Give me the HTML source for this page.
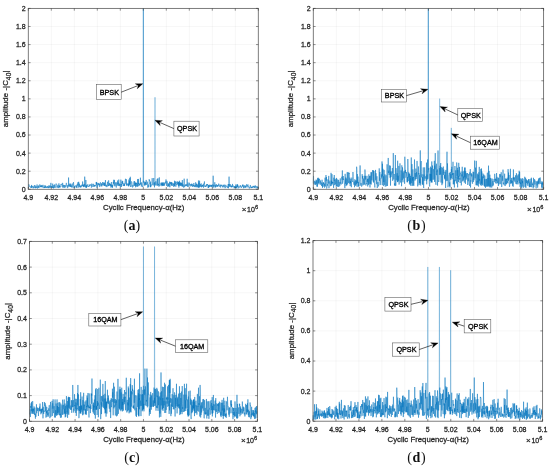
<!DOCTYPE html>
<html lang="en"><head><meta charset="utf-8"><title>Cyclic cumulant spectra</title>
<style>
html,body{margin:0;padding:0;background:#fff;width:550px;height:470px;overflow:hidden}
svg{display:block;position:absolute;left:0;top:0}
text{white-space:pre}
</style></head><body>
<svg width="550" height="470" viewBox="0 0 550 470">
<rect width="550" height="470" fill="#fff"/>
<rect x="28.30" y="8.40" width="230.00" height="180.90" fill="#fff"/>
<path d="M51.30 8.40V189.30M74.30 8.40V189.30M97.30 8.40V189.30M120.30 8.40V189.30M143.30 8.40V189.30M166.30 8.40V189.30M189.30 8.40V189.30M212.30 8.40V189.30M235.30 8.40V189.30M28.30 171.21H258.30M28.30 153.12H258.30M28.30 135.03H258.30M28.30 116.94H258.30M28.30 98.85H258.30M28.30 80.76H258.30M28.30 62.67H258.30M28.30 44.58H258.30M28.30 26.49H258.30" stroke="#000" stroke-opacity="0.075" stroke-width="0.5" fill="none"/>
<polyline points="28.30,186.91 28.53,187.61 28.76,184.04 28.99,186.59 29.22,186.01 29.45,185.70 29.68,186.17 29.91,186.69 30.14,186.82 30.37,187.16 30.60,186.87 30.83,187.50 31.06,186.21 31.29,187.99 31.52,184.93 31.75,187.45 31.98,186.84 32.21,187.18 32.44,185.89 32.67,186.15 32.90,187.75 33.13,188.34 33.37,186.52 33.60,187.47 33.83,187.96 34.06,188.02 34.29,185.50 34.52,185.02 34.75,185.97 34.98,187.95 35.21,185.56 35.44,186.78 35.67,188.26 35.90,187.05 36.13,187.43 36.36,186.46 36.59,187.41 36.82,187.80 37.05,184.51 37.28,187.56 37.51,188.46 37.74,187.55 37.97,186.30 38.20,187.65 38.43,185.49 38.66,186.78 38.89,188.01 39.12,186.32 39.35,186.29 39.58,185.62 39.81,184.42 40.04,187.33 40.27,185.99 40.50,186.18 40.73,186.84 40.96,184.96 41.19,187.04 41.42,185.65 41.65,187.07 41.88,187.35 42.11,185.35 42.34,186.59 42.57,187.32 42.80,186.58 43.03,184.83 43.26,186.90 43.50,187.23 43.73,186.83 43.96,188.11 44.19,187.01 44.42,187.93 44.65,185.48 44.88,185.48 45.11,187.59 45.34,186.47 45.57,185.60 45.80,188.01 46.03,186.30 46.26,187.41 46.49,187.33 46.72,187.82 46.95,187.05 47.18,187.39 47.41,186.26 47.64,185.98 47.87,187.85 48.10,186.48 48.33,188.17 48.56,187.12 48.79,187.00 49.02,185.17 49.25,188.07 49.48,186.50 49.71,186.86 49.94,186.37 50.17,185.76 50.40,187.84 50.63,186.82 50.86,182.87 51.09,186.93 51.32,186.06 51.55,186.67 51.78,187.75 52.01,186.14 52.24,187.84 52.47,186.92 52.70,183.64 52.93,187.92 53.16,187.09 53.40,188.45 53.63,185.32 53.86,185.11 54.09,187.92 54.32,187.08 54.55,184.49 54.78,187.25 55.01,187.24 55.24,187.86 55.47,187.10 55.70,184.94 55.93,183.58 56.16,183.75 56.39,183.79 56.62,185.55 56.85,187.56 57.08,186.55 57.31,186.58 57.54,187.48 57.77,184.84 58.00,185.64 58.23,186.65 58.46,188.08 58.69,186.57 58.92,183.36 59.15,187.30 59.38,185.38 59.61,187.32 59.84,185.98 60.07,187.52 60.30,187.10 60.53,186.50 60.76,184.78 60.99,184.07 61.22,184.65 61.45,183.81 61.68,184.52 61.91,185.24 62.14,186.94 62.37,186.45 62.60,182.86 62.83,184.11 63.06,188.00 63.29,186.45 63.53,185.05 63.76,185.28 63.99,187.00 64.22,184.98 64.45,186.46 64.68,188.00 64.91,187.35 65.14,185.16 65.37,186.14 65.60,186.55 65.83,187.26 66.06,184.66 66.29,182.86 66.52,183.88 66.75,186.07 66.98,186.46 67.21,186.33 67.44,185.41 67.67,188.15 67.90,186.34 68.13,185.63 68.36,186.23 68.59,177.54 68.82,186.62 69.05,185.11 69.28,183.66 69.51,185.54 69.74,186.45 69.97,184.78 70.20,186.87 70.43,183.59 70.66,185.01 70.89,187.05 71.12,184.63 71.35,186.44 71.58,186.03 71.81,187.58 72.04,184.96 72.27,183.47 72.50,186.74 72.73,186.88 72.96,187.47 73.19,187.60 73.43,182.13 73.66,184.74 73.89,186.28 74.12,187.69 74.35,187.70 74.58,186.04 74.81,187.47 75.04,186.33 75.27,185.38 75.50,185.75 75.73,186.17 75.96,185.96 76.19,187.51 76.42,187.46 76.65,185.34 76.88,187.76 77.11,184.19 77.34,183.81 77.57,183.88 77.80,185.73 78.03,182.12 78.26,187.62 78.49,186.96 78.72,181.77 78.95,184.11 79.18,184.96 79.41,183.73 79.64,186.85 79.87,184.99 80.10,187.53 80.33,185.93 80.56,187.16 80.79,186.98 81.02,187.29 81.25,185.42 81.48,185.75 81.71,186.75 81.94,184.60 82.17,185.51 82.40,185.93 82.63,181.49 82.86,185.89 83.09,185.24 83.33,186.75 83.56,184.68 83.79,187.16 84.02,185.79 84.25,183.88 84.48,186.63 84.71,176.64 84.94,182.44 85.17,185.09 85.40,186.14 85.63,187.28 85.86,179.99 86.09,187.74 86.32,184.85 86.55,187.70 86.78,185.80 87.01,186.75 87.24,185.66 87.47,185.87 87.70,184.33 87.93,185.69 88.16,186.36 88.39,186.87 88.62,186.37 88.85,186.12 89.08,186.89 89.31,184.45 89.54,185.98 89.77,185.04 90.00,184.71 90.23,184.84 90.46,184.78 90.69,184.36 90.92,185.73 91.15,184.89 91.38,187.63 91.61,185.94 91.84,183.57 92.07,184.83 92.30,184.42 92.53,186.46 92.76,186.89 92.99,187.03 93.22,185.83 93.46,183.96 93.69,183.84 93.92,186.72 94.15,185.21 94.38,186.44 94.61,185.39 94.84,186.09 95.07,185.14 95.30,186.26 95.53,185.34 95.76,184.87 95.99,184.25 96.22,181.95 96.45,184.41 96.68,182.10 96.91,187.66 97.14,183.16 97.37,186.41 97.60,186.75 97.83,185.80 98.06,185.26 98.29,182.92 98.52,184.77 98.75,184.14 98.98,183.39 99.21,185.32 99.44,183.93 99.67,186.98 99.90,186.93 100.13,183.56 100.36,182.30 100.59,183.07 100.82,184.84 101.05,185.90 101.28,183.16 101.51,183.43 101.74,186.53 101.97,184.38 102.20,185.34 102.43,183.29 102.66,182.06 102.89,184.84 103.12,184.65 103.36,182.58 103.59,185.32 103.82,184.95 104.05,185.46 104.28,182.45 104.51,185.92 104.74,183.10 104.97,184.79 105.20,186.08 105.43,180.11 105.66,183.73 105.89,186.57 106.12,186.39 106.35,184.84 106.58,186.51 106.81,187.14 107.04,186.26 107.27,186.42 107.50,181.75 107.73,185.34 107.96,185.59 108.19,185.13 108.42,186.08 108.65,180.38 108.88,185.91 109.11,185.71 109.34,183.17 109.57,183.14 109.80,185.19 110.03,183.69 110.26,186.03 110.49,184.24 110.72,185.94 110.95,187.62 111.18,183.37 111.41,182.09 111.64,186.66 111.87,184.68 112.10,187.35 112.33,185.15 112.56,187.69 112.79,184.68 113.02,184.57 113.25,181.92 113.49,183.63 113.72,179.77 113.95,182.16 114.18,185.67 114.41,179.90 114.64,183.66 114.87,186.33 115.10,185.37 115.33,185.35 115.56,182.36 115.79,184.05 116.02,184.78 116.25,187.55 116.48,182.46 116.71,182.80 116.94,182.90 117.17,185.63 117.40,184.09 117.63,180.51 117.86,184.35 118.09,182.47 118.32,185.88 118.55,183.09 118.78,179.56 119.01,184.77 119.24,186.14 119.47,183.60 119.70,185.58 119.93,184.31 120.16,184.47 120.39,187.06 120.62,185.88 120.85,179.65 121.08,185.33 121.31,184.03 121.54,186.92 121.77,182.43 122.00,182.78 122.23,180.81 122.46,183.80 122.69,181.22 122.92,184.90 123.15,185.83 123.39,185.23 123.62,185.61 123.85,183.25 124.08,186.09 124.31,183.76 124.54,185.94 124.77,184.83 125.00,181.58 125.23,180.65 125.46,178.79 125.69,180.41 125.92,183.90 126.15,181.17 126.38,179.25 126.61,185.50 126.84,183.51 127.07,185.45 127.30,183.83 127.53,183.82 127.76,183.97 127.99,183.94 128.22,185.77 128.45,183.52 128.68,186.47 128.91,179.53 129.14,185.58 129.37,181.25 129.60,184.71 129.83,178.01 130.06,184.27 130.29,176.76 130.52,186.88 130.75,186.45 130.98,185.70 131.21,186.53 131.44,181.45 131.67,181.58 131.90,181.88 132.13,184.70 132.36,186.45 132.59,187.45 132.82,185.18 133.05,185.30 133.28,186.47 133.52,183.44 133.75,182.40 133.98,181.71 134.21,181.08 134.44,185.77 134.67,181.41 134.90,182.49 135.13,185.81 135.36,182.83 135.59,187.28 135.82,182.50 136.05,184.18 136.28,182.85 136.51,186.47 136.74,183.19 136.97,183.60 137.20,184.05 137.43,186.72 137.66,179.12 137.89,185.18 138.12,186.30 138.35,178.95 138.58,184.10 138.81,182.91 139.04,186.06 139.27,184.30 139.50,185.03 139.73,183.70 139.96,184.68 140.19,182.64 140.42,177.69 140.65,184.39 140.88,182.79 141.11,184.06 141.34,186.50 141.57,183.53 141.80,182.31 142.03,183.19 142.26,186.64 142.49,186.69 142.72,185.95 142.95,186.53 143.18,182.15 143.42,180.52 143.65,182.14 143.88,182.81 144.11,181.65 144.34,184.56 144.57,183.46 144.80,185.77 145.03,181.76 145.26,185.09 145.49,182.26 145.72,184.38 145.95,183.05 146.18,179.90 146.41,182.16 146.64,184.88 146.87,183.95 147.10,184.08 147.33,181.67 147.56,184.37 147.79,187.63 148.02,185.78 148.25,184.50 148.48,187.17 148.71,186.38 148.94,184.51 149.17,179.18 149.40,180.65 149.63,180.13 149.86,183.71 150.09,183.25 150.32,187.16 150.55,181.62 150.78,187.13 151.01,185.49 151.24,185.84 151.47,184.73 151.70,184.93 151.93,183.87 152.16,178.15 152.39,183.13 152.62,183.96 152.85,185.28 153.08,183.84 153.32,183.77 153.55,181.33 153.78,177.98 154.01,185.46 154.24,182.93 154.47,187.33 154.70,182.18 154.93,183.07 155.16,184.17 155.39,185.45 155.62,183.84 155.85,181.21 156.08,182.91 156.31,184.08 156.54,185.01 156.77,185.55 157.00,181.31 157.23,178.92 157.46,184.18 157.69,185.80 157.92,178.26 158.15,185.02 158.38,185.10 158.61,183.80 158.84,186.56 159.07,184.88 159.30,177.38 159.53,184.02 159.76,186.15 159.99,185.96 160.22,184.92 160.45,185.06 160.68,184.55 160.91,182.73 161.14,184.46 161.37,185.06 161.60,183.28 161.83,186.15 162.06,182.12 162.29,185.49 162.52,182.88 162.75,185.65 162.98,183.77 163.21,185.86 163.45,183.33 163.68,182.33 163.91,185.63 164.14,183.06 164.37,185.45 164.60,185.51 164.83,182.43 165.06,182.37 165.29,182.25 165.52,181.70 165.75,183.54 165.98,179.43 166.21,181.33 166.44,185.17 166.67,185.86 166.90,180.89 167.13,182.58 167.36,182.39 167.59,186.67 167.82,185.39 168.05,184.57 168.28,183.15 168.51,186.10 168.74,183.95 168.97,186.74 169.20,185.39 169.43,184.21 169.66,181.66 169.89,187.31 170.12,182.05 170.35,182.46 170.58,183.98 170.81,183.84 171.04,181.95 171.27,185.55 171.50,182.38 171.73,185.12 171.96,185.70 172.19,182.60 172.42,184.92 172.65,185.69 172.88,185.12 173.11,184.92 173.35,183.26 173.58,185.62 173.81,187.01 174.04,184.06 174.27,185.90 174.50,180.76 174.73,186.22 174.96,182.55 175.19,183.93 175.42,183.37 175.65,181.29 175.88,186.70 176.11,183.82 176.34,184.68 176.57,184.50 176.80,182.05 177.03,182.76 177.26,181.30 177.49,184.60 177.72,183.20 177.95,183.81 178.18,181.83 178.41,186.02 178.64,181.83 178.87,187.57 179.10,182.60 179.33,184.97 179.56,180.78 179.79,186.05 180.02,182.75 180.25,184.79 180.48,185.82 180.71,182.43 180.94,184.92 181.17,183.03 181.40,185.94 181.63,185.77 181.86,182.73 182.09,186.53 182.32,180.06 182.55,186.53 182.78,185.02 183.01,184.26 183.24,185.99 183.48,185.79 183.71,187.66 183.94,183.58 184.17,178.67 184.40,187.07 184.63,186.56 184.86,185.88 185.09,184.89 185.32,185.79 185.55,186.16 185.78,184.22 186.01,186.12 186.24,186.03 186.47,185.39 186.70,184.39 186.93,185.79 187.16,178.76 187.39,186.18 187.62,186.86 187.85,183.50 188.08,182.52 188.31,183.39 188.54,183.93 188.77,186.80 189.00,185.16 189.23,183.87 189.46,182.78 189.69,183.91 189.92,185.50 190.15,184.13 190.38,184.81 190.61,184.76 190.84,186.53 191.07,184.69 191.30,184.30 191.53,185.83 191.76,183.58 191.99,184.92 192.22,184.17 192.45,185.64 192.68,186.85 192.91,184.87 193.14,186.37 193.38,184.93 193.61,185.81 193.84,182.96 194.07,184.85 194.30,187.08 194.53,185.62 194.76,186.33 194.99,185.20 195.22,185.18 195.45,186.72 195.68,182.28 195.91,185.53 196.14,187.35 196.37,185.31 196.60,183.64 196.83,186.78 197.06,184.04 197.29,186.11 197.52,185.45 197.75,187.43 197.98,185.82 198.21,186.76 198.44,180.49 198.67,187.89 198.90,182.64 199.13,184.53 199.36,187.44 199.59,180.69 199.82,186.73 200.05,186.93 200.28,185.13 200.51,184.24 200.74,186.66 200.97,185.32 201.20,183.42 201.43,187.35 201.66,187.15 201.89,185.41 202.12,186.95 202.35,185.12 202.58,186.21 202.81,185.05 203.04,185.52 203.27,183.96 203.51,187.67 203.74,184.60 203.97,183.28 204.20,183.67 204.43,181.45 204.66,186.40 204.89,185.82 205.12,186.74 205.35,185.61 205.58,186.74 205.81,186.35 206.04,186.69 206.27,185.24 206.50,186.19 206.73,184.08 206.96,184.89 207.19,184.06 207.42,185.29 207.65,184.51 207.88,185.31 208.11,187.84 208.34,184.95 208.57,187.93 208.80,186.22 209.03,185.22 209.26,187.12 209.49,186.18 209.72,184.67 209.95,186.86 210.18,185.51 210.41,185.21 210.64,185.10 210.87,186.51 211.10,184.83 211.33,186.96 211.56,184.98 211.79,185.99 212.02,185.79 212.25,187.18 212.48,187.34 212.71,184.43 212.94,186.17 213.17,175.73 213.41,185.68 213.64,187.54 213.87,185.01 214.10,186.29 214.33,186.56 214.56,184.78 214.79,182.24 215.02,185.64 215.25,187.67 215.48,185.36 215.71,186.95 215.94,184.54 216.17,185.39 216.40,184.36 216.63,186.75 216.86,186.69 217.09,186.66 217.32,185.04 217.55,186.69 217.78,184.93 218.01,185.78 218.24,185.59 218.47,185.54 218.70,183.63 218.93,186.52 219.16,186.78 219.39,186.48 219.62,186.60 219.85,184.71 220.08,184.58 220.31,186.18 220.54,187.45 220.77,184.84 221.00,186.03 221.23,185.92 221.46,186.16 221.69,184.74 221.92,185.63 222.15,185.30 222.38,187.36 222.61,187.20 222.84,185.97 223.07,186.57 223.31,184.72 223.54,186.27 223.77,185.52 224.00,187.45 224.23,186.80 224.46,186.69 224.69,184.64 224.92,186.19 225.15,188.20 225.38,187.90 225.61,186.76 225.84,184.88 226.07,186.75 226.30,186.53 226.53,186.24 226.76,186.11 226.99,186.66 227.22,187.48 227.45,187.14 227.68,186.62 227.91,187.81 228.14,184.27 228.37,188.30 228.60,184.14 228.83,185.29 229.06,176.64 229.29,184.74 229.52,186.80 229.75,184.13 229.98,185.71 230.21,184.33 230.44,187.06 230.67,186.96 230.90,186.09 231.13,185.33 231.36,187.21 231.59,185.98 231.82,187.38 232.05,186.47 232.28,186.59 232.51,183.92 232.74,186.94 232.97,186.06 233.20,185.61 233.44,186.35 233.67,186.19 233.90,186.47 234.13,188.23 234.36,186.16 234.59,187.37 234.82,186.74 235.05,187.77 235.28,186.15 235.51,185.76 235.74,187.87 235.97,184.39 236.20,188.06 236.43,186.79 236.66,186.27 236.89,188.44 237.12,184.64 237.35,186.70 237.58,184.25 237.81,186.86 238.04,185.56 238.27,187.04 238.50,188.29 238.73,187.77 238.96,186.56 239.19,187.27 239.42,187.47 239.65,186.70 239.88,186.80 240.11,185.49 240.34,186.36 240.57,185.46 240.80,187.35 241.03,186.69 241.26,186.61 241.49,187.85 241.72,186.84 241.95,186.52 242.18,186.08 242.41,185.02 242.64,186.56 242.87,184.40 243.10,186.18 243.34,186.82 243.57,188.24 243.80,185.38 244.03,187.27 244.26,186.83 244.49,187.55 244.72,185.62 244.95,185.22 245.18,186.58 245.41,187.63 245.64,185.88 245.87,187.55 246.10,186.27 246.33,186.01 246.56,184.33 246.79,186.61 247.02,186.57 247.25,187.29 247.48,185.21 247.71,185.76 247.94,184.39 248.17,185.56 248.40,187.30 248.63,186.67 248.86,186.44 249.09,187.08 249.32,188.51 249.55,187.79 249.78,187.44 250.01,188.08 250.24,184.96 250.47,185.31 250.70,186.90 250.93,186.57 251.16,188.17 251.39,186.96 251.62,187.08 251.85,188.01 252.08,186.86 252.31,187.96 252.54,186.32 252.77,186.39 253.00,186.56 253.23,187.13 253.47,186.22 253.70,187.43 253.93,185.90 254.16,185.62 254.39,187.96 254.62,186.31 254.85,186.76 255.08,187.22 255.31,187.12 255.54,185.53 255.77,187.99 256.00,188.27 256.23,187.82 256.46,186.51 256.69,187.15 256.92,186.68 257.15,187.22 257.38,188.41 257.61,186.61 257.84,187.49 258.07,186.66 258.30,187.74" fill="none" stroke="#0072BD" stroke-width="0.5" stroke-linejoin="round"/>
<g fill="none" stroke="#0072BD" stroke-linejoin="round"><path d="M143.13 182.15L143.35 8.40L143.57 180.52" stroke-width="0.45"/><path d="M154.78 183.07L155.00 97.22L155.22 184.17" stroke-width="0.32"/></g>
<rect x="28.30" y="8.40" width="230.00" height="180.90" fill="none" stroke="#666" stroke-width="0.85"/>
<path d="M28.30 189.30v-2.3M28.30 8.40v2.3M51.30 189.30v-2.3M51.30 8.40v2.3M74.30 189.30v-2.3M74.30 8.40v2.3M97.30 189.30v-2.3M97.30 8.40v2.3M120.30 189.30v-2.3M120.30 8.40v2.3M143.30 189.30v-2.3M143.30 8.40v2.3M166.30 189.30v-2.3M166.30 8.40v2.3M189.30 189.30v-2.3M189.30 8.40v2.3M212.30 189.30v-2.3M212.30 8.40v2.3M235.30 189.30v-2.3M235.30 8.40v2.3M258.30 189.30v-2.3M258.30 8.40v2.3M28.30 189.30h2.3M258.30 189.30h-2.3M28.30 171.21h2.3M258.30 171.21h-2.3M28.30 153.12h2.3M258.30 153.12h-2.3M28.30 135.03h2.3M258.30 135.03h-2.3M28.30 116.94h2.3M258.30 116.94h-2.3M28.30 98.85h2.3M258.30 98.85h-2.3M28.30 80.76h2.3M258.30 80.76h-2.3M28.30 62.67h2.3M258.30 62.67h-2.3M28.30 44.58h2.3M258.30 44.58h-2.3M28.30 26.49h2.3M258.30 26.49h-2.3M28.30 8.40h2.3M258.30 8.40h-2.3" stroke="#262626" stroke-width="0.5" fill="none"/>
<g font-family="Liberation Sans, Arial, sans-serif" font-size="7.0" fill="#262626" stroke="#262626" stroke-width="0.26">
<text x="28.30" y="199.90" text-anchor="middle">4.9</text>
<text x="51.30" y="199.90" text-anchor="middle">4.92</text>
<text x="74.30" y="199.90" text-anchor="middle">4.94</text>
<text x="97.30" y="199.90" text-anchor="middle">4.96</text>
<text x="120.30" y="199.90" text-anchor="middle">4.98</text>
<text x="143.30" y="199.90" text-anchor="middle">5</text>
<text x="166.30" y="199.90" text-anchor="middle">5.02</text>
<text x="189.30" y="199.90" text-anchor="middle">5.04</text>
<text x="212.30" y="199.90" text-anchor="middle">5.06</text>
<text x="235.30" y="199.90" text-anchor="middle">5.08</text>
<text x="258.30" y="199.90" text-anchor="middle">5.1</text>
<text x="25.70" y="191.75" text-anchor="end">0</text>
<text x="25.70" y="173.66" text-anchor="end">0.2</text>
<text x="25.70" y="155.57" text-anchor="end">0.4</text>
<text x="25.70" y="137.48" text-anchor="end">0.6</text>
<text x="25.70" y="119.39" text-anchor="end">0.8</text>
<text x="25.70" y="101.30" text-anchor="end">1</text>
<text x="25.70" y="83.21" text-anchor="end">1.2</text>
<text x="25.70" y="65.12" text-anchor="end">1.4</text>
<text x="25.70" y="47.03" text-anchor="end">1.6</text>
<text x="25.70" y="28.94" text-anchor="end">1.8</text>
<text x="25.70" y="10.85" text-anchor="end">2</text>
<text x="258.00" y="211.50" text-anchor="end"><tspan font-size="8.05">×</tspan><tspan dx="0.6">10</tspan><tspan dy="-2.9" font-size="5.60">6</tspan></text>
<text x="143.70" y="209.70" text-anchor="middle" font-size="7.77">Cyclic Frequency-α(Hz)</text>
<text transform="translate(8.20 98.85) rotate(-90)" text-anchor="middle" letter-spacing="0.08" font-size="7.77">amplitude -|C<tspan dy="2.5" font-size="6.68">40</tspan><tspan dy="-2.5">|</tspan></text>
</g>
<g font-family="Liberation Sans, Arial, sans-serif" font-size="7.2" fill="#000" stroke="#000" stroke-width="0.32">
<rect x="96.50" y="84.70" width="24.70" height="15.00" fill="#fff" stroke="#555" stroke-width="0.55"/>
<text x="109.35" y="94.80" text-anchor="middle">BPSK</text>
<path d="M121.20 92.20L137.40 85.82" stroke="#000" stroke-width="0.62" fill="none"/>
<path d="M142.80 83.70L137.27 88.78L138.24 85.49L135.30 83.75Z" fill="#000"/>
<rect x="173.90" y="121.20" width="25.20" height="14.80" fill="#fff" stroke="#555" stroke-width="0.55"/>
<text x="187.00" y="131.20" text-anchor="middle">QPSK</text>
<path d="M173.90 128.60L160.21 122.62" stroke="#000" stroke-width="0.62" fill="none"/>
<path d="M154.90 120.30L162.40 120.63L159.39 122.26L160.23 125.58Z" fill="#000"/>
</g>
<text x="132.00" y="230.30" text-anchor="middle" font-family="Liberation Serif, Times New Roman, serif" font-size="14" fill="#111" letter-spacing="0">(<tspan font-weight="bold">a</tspan>)</text>
<rect x="313.30" y="8.40" width="230.30" height="180.90" fill="#fff"/>
<path d="M336.33 8.40V189.30M359.36 8.40V189.30M382.39 8.40V189.30M405.42 8.40V189.30M428.45 8.40V189.30M451.48 8.40V189.30M474.51 8.40V189.30M497.54 8.40V189.30M520.57 8.40V189.30M313.30 171.21H543.60M313.30 153.12H543.60M313.30 135.03H543.60M313.30 116.94H543.60M313.30 98.85H543.60M313.30 80.76H543.60M313.30 62.67H543.60M313.30 44.58H543.60M313.30 26.49H543.60" stroke="#000" stroke-opacity="0.075" stroke-width="0.5" fill="none"/>
<polyline points="313.30,183.34 313.53,176.08 313.76,184.26 313.99,183.31 314.22,183.17 314.45,182.31 314.68,180.82 314.91,184.78 315.14,181.96 315.37,181.58 315.61,184.78 315.84,184.04 316.07,179.60 316.30,183.89 316.53,180.43 316.76,186.07 316.99,186.67 317.22,183.70 317.45,186.60 317.68,178.20 317.91,183.77 318.14,177.70 318.37,183.08 318.60,178.60 318.83,179.29 319.06,184.48 319.29,180.87 319.52,178.79 319.75,180.77 319.99,182.27 320.22,183.36 320.45,180.47 320.68,184.79 320.91,183.47 321.14,183.65 321.37,182.57 321.60,186.04 321.83,184.25 322.06,179.74 322.29,185.23 322.52,187.89 322.75,183.54 322.98,186.93 323.21,182.02 323.44,184.09 323.67,182.85 323.90,182.92 324.13,185.83 324.37,183.78 324.60,187.70 324.83,183.84 325.06,177.69 325.29,182.17 325.52,186.48 325.75,182.54 325.98,175.04 326.21,180.73 326.44,177.06 326.67,188.51 326.90,187.95 327.13,185.96 327.36,184.23 327.59,185.63 327.82,179.43 328.05,181.19 328.28,183.51 328.52,181.88 328.75,175.90 328.98,188.19 329.21,182.70 329.44,183.27 329.67,181.44 329.90,180.64 330.13,182.10 330.36,186.18 330.59,185.28 330.82,181.98 331.05,172.84 331.28,185.82 331.51,180.65 331.74,183.87 331.97,174.17 332.20,184.55 332.43,181.96 332.66,183.03 332.90,182.21 333.13,181.51 333.36,183.50 333.59,187.92 333.82,177.69 334.05,181.01 334.28,175.02 334.51,185.15 334.74,184.40 334.97,179.58 335.20,182.08 335.43,184.24 335.66,184.39 335.89,178.73 336.12,186.56 336.35,185.46 336.58,177.91 336.81,186.39 337.04,185.15 337.28,185.63 337.51,183.19 337.74,179.42 337.97,186.98 338.20,183.62 338.43,181.06 338.66,179.98 338.89,186.89 339.12,181.84 339.35,183.05 339.58,183.70 339.81,185.83 340.04,183.82 340.27,178.39 340.50,183.48 340.73,182.45 340.96,183.03 341.19,184.49 341.42,179.45 341.66,178.43 341.89,176.69 342.12,179.79 342.35,170.43 342.58,183.73 342.81,180.02 343.04,178.28 343.27,176.05 343.50,179.80 343.73,178.70 343.96,179.78 344.19,182.01 344.42,182.82 344.65,185.87 344.88,188.17 345.11,173.83 345.34,178.81 345.57,183.69 345.80,177.43 346.04,186.12 346.27,178.46 346.50,184.66 346.73,183.72 346.96,185.25 347.19,172.24 347.42,178.53 347.65,184.21 347.88,175.11 348.11,172.01 348.34,180.31 348.57,182.95 348.80,173.39 349.03,174.03 349.26,172.78 349.49,180.68 349.72,183.70 349.95,177.65 350.18,186.06 350.42,181.05 350.65,183.12 350.88,179.11 351.11,183.04 351.34,187.23 351.57,181.13 351.80,177.58 352.03,180.81 352.26,181.02 352.49,181.74 352.72,181.93 352.95,172.01 353.18,176.49 353.41,180.98 353.64,183.89 353.87,184.68 354.10,184.66 354.33,181.53 354.56,187.22 354.80,179.28 355.03,181.21 355.26,184.26 355.49,185.60 355.72,180.31 355.95,185.46 356.18,180.65 356.41,183.81 356.64,166.72 356.87,169.66 357.10,186.83 357.33,174.07 357.56,183.11 357.79,178.16 358.02,176.59 358.25,179.69 358.48,186.53 358.71,181.95 358.95,186.35 359.18,183.47 359.41,181.04 359.64,181.08 359.87,176.70 360.10,165.43 360.33,179.87 360.56,181.70 360.79,185.65 361.02,183.05 361.25,185.13 361.48,186.43 361.71,186.71 361.94,184.74 362.17,174.18 362.40,178.59 362.63,176.07 362.86,185.42 363.09,184.35 363.33,178.52 363.56,181.51 363.79,184.49 364.02,184.87 364.25,175.76 364.48,183.47 364.71,184.41 364.94,169.52 365.17,172.82 365.40,179.55 365.63,175.88 365.86,185.49 366.09,183.21 366.32,183.11 366.55,183.85 366.78,177.78 367.01,175.83 367.24,181.92 367.47,179.01 367.71,186.44 367.94,182.07 368.17,178.51 368.40,184.97 368.63,178.36 368.86,174.35 369.09,183.85 369.32,179.64 369.55,176.09 369.78,182.59 370.01,187.49 370.24,175.71 370.47,183.89 370.70,183.48 370.93,172.20 371.16,184.58 371.39,179.26 371.62,172.27 371.85,180.28 372.09,176.44 372.32,173.69 372.55,170.12 372.78,174.22 373.01,178.59 373.24,181.62 373.47,170.33 373.70,182.62 373.93,170.89 374.16,173.37 374.39,182.53 374.62,185.18 374.85,187.49 375.08,181.62 375.31,179.06 375.54,169.92 375.77,180.22 376.00,173.20 376.23,179.52 376.47,180.87 376.70,184.19 376.93,176.28 377.16,187.70 377.39,188.03 377.62,184.02 377.85,181.99 378.08,182.56 378.31,184.83 378.54,186.43 378.77,184.40 379.00,181.12 379.23,168.36 379.46,180.82 379.69,176.45 379.92,172.03 380.15,185.09 380.38,183.85 380.61,179.25 380.85,178.22 381.08,178.61 381.31,174.33 381.54,177.11 381.77,177.67 382.00,161.42 382.23,184.99 382.46,163.78 382.69,176.43 382.92,168.79 383.15,172.43 383.38,186.05 383.61,176.28 383.84,182.08 384.07,169.90 384.30,173.66 384.53,184.66 384.76,185.10 384.99,174.39 385.23,186.70 385.46,181.00 385.69,178.34 385.92,176.11 386.15,175.29 386.38,186.22 386.61,181.31 386.84,178.74 387.07,164.31 387.30,173.11 387.53,185.94 387.76,179.02 387.99,175.45 388.22,157.95 388.45,173.09 388.68,173.07 388.91,170.65 389.14,175.05 389.38,171.58 389.61,165.41 389.84,167.52 390.07,177.78 390.30,165.75 390.53,185.63 390.76,171.46 390.99,177.11 391.22,176.18 391.45,173.58 391.68,174.27 391.91,171.44 392.14,173.22 392.37,167.98 392.60,180.80 392.83,180.04 393.06,173.83 393.29,153.12 393.52,175.36 393.76,179.40 393.99,177.86 394.22,173.99 394.45,185.37 394.68,183.54 394.91,183.39 395.14,186.04 395.37,155.01 395.60,177.16 395.83,185.55 396.06,168.11 396.29,171.76 396.52,177.31 396.75,180.33 396.98,173.83 397.21,173.19 397.44,182.02 397.67,160.69 397.90,182.18 398.14,175.71 398.37,179.36 398.60,180.69 398.83,165.92 399.06,184.57 399.29,182.81 399.52,174.48 399.75,169.80 399.98,163.35 400.21,172.90 400.44,180.71 400.67,182.57 400.90,173.25 401.13,170.42 401.36,173.22 401.59,186.23 401.82,165.30 402.05,168.33 402.28,180.26 402.52,167.36 402.75,171.55 402.98,182.27 403.21,172.38 403.44,178.43 403.67,177.97 403.90,171.39 404.13,170.90 404.36,171.98 404.59,183.74 404.82,156.72 405.05,164.56 405.28,173.15 405.51,169.90 405.74,177.65 405.97,177.19 406.20,176.33 406.43,172.06 406.66,176.61 406.90,181.77 407.13,182.29 407.36,176.98 407.59,182.15 407.82,159.01 408.05,167.27 408.28,180.97 408.51,173.87 408.74,172.29 408.97,177.62 409.20,173.54 409.43,184.42 409.66,173.83 409.89,182.69 410.12,178.12 410.35,184.46 410.58,175.82 410.81,185.86 411.04,177.60 411.28,157.48 411.51,180.67 411.74,183.20 411.97,164.12 412.20,186.02 412.43,177.28 412.66,180.66 412.89,169.32 413.12,185.25 413.35,178.77 413.58,176.83 413.81,185.92 414.04,177.08 414.27,176.57 414.50,159.49 414.73,176.84 414.96,180.66 415.19,173.06 415.43,179.38 415.66,177.15 415.89,168.58 416.12,176.79 416.35,175.36 416.58,172.25 416.81,179.01 417.04,160.93 417.27,173.06 417.50,174.42 417.73,186.38 417.96,179.67 418.19,178.26 418.42,166.45 418.65,174.40 418.88,172.95 419.11,185.14 419.34,174.75 419.57,182.90 419.81,178.76 420.04,183.46 420.27,150.39 420.50,184.66 420.73,185.49 420.96,166.28 421.19,161.05 421.42,171.53 421.65,177.39 421.88,176.16 422.11,174.29 422.34,184.30 422.57,177.06 422.80,184.92 423.03,177.18 423.26,167.41 423.49,186.74 423.72,187.99 423.95,174.50 424.19,180.84 424.42,178.35 424.65,167.38 424.88,177.21 425.11,178.69 425.34,177.50 425.57,176.45 425.80,177.46 426.03,179.76 426.26,181.01 426.49,162.64 426.72,184.30 426.95,174.53 427.18,179.51 427.41,173.15 427.64,159.46 427.87,178.85 428.10,172.62 428.57,170.02 428.80,168.02 429.03,170.85 429.26,182.53 429.49,184.60 429.72,186.56 429.95,173.76 430.18,181.05 430.41,166.67 430.64,180.46 430.87,173.99 431.10,182.58 431.33,167.79 431.56,182.03 431.79,161.44 432.02,182.63 432.25,173.99 432.48,165.53 432.71,171.16 432.95,179.78 433.18,174.50 433.41,169.06 433.64,169.24 433.87,179.47 434.10,178.59 434.33,160.83 434.56,181.91 434.79,165.58 435.02,169.34 435.25,153.15 435.48,175.81 435.71,182.78 435.94,184.80 436.17,174.93 436.40,163.70 436.63,175.18 436.86,170.86 437.09,171.38 437.33,169.51 437.56,185.58 437.79,173.55 438.02,150.51 438.25,175.66 438.48,179.70 438.71,182.04 438.94,180.76 439.17,179.75 439.40,168.14 439.86,174.98 440.09,165.71 440.32,174.32 440.55,163.89 440.78,163.02 441.01,182.54 441.24,167.17 441.47,175.33 441.71,178.34 441.94,185.15 442.17,171.56 442.40,167.72 442.63,183.47 442.86,171.53 443.09,170.85 443.32,166.55 443.55,174.85 443.78,169.54 444.01,172.97 444.24,172.38 444.47,178.45 444.70,174.93 444.93,179.48 445.16,171.62 445.39,172.18 445.62,188.00 445.86,169.92 446.09,181.16 446.32,179.95 446.55,178.98 446.78,165.57 447.01,151.73 447.24,180.87 447.47,163.42 447.70,170.21 447.93,187.25 448.16,186.17 448.39,184.76 448.62,177.88 448.85,175.42 449.08,175.56 449.31,172.91 449.54,186.24 449.77,182.36 450.00,187.45 450.24,172.04 450.47,177.92 450.70,179.83 450.93,174.05 451.16,178.05 451.39,169.13 451.62,172.50 451.85,166.81 452.08,179.18 452.31,173.05 452.54,175.06 452.77,174.15 453.00,161.79 453.23,184.23 453.46,180.81 453.69,172.95 453.92,184.32 454.15,179.90 454.38,187.48 454.62,176.01 454.85,166.01 455.08,166.64 455.31,181.26 455.54,178.24 455.77,170.31 456.00,177.71 456.23,177.40 456.46,183.49 456.69,162.47 456.92,166.50 457.15,175.83 457.38,167.78 457.61,187.33 457.84,170.00 458.07,179.16 458.30,175.96 458.53,182.08 458.76,162.82 459.00,173.53 459.23,176.55 459.46,166.94 459.69,179.65 459.92,177.79 460.15,183.02 460.38,176.14 460.61,173.04 460.84,173.55 461.07,171.56 461.30,185.42 461.53,182.55 461.76,174.28 461.99,176.44 462.22,166.78 462.45,178.97 462.68,181.37 462.91,171.61 463.14,176.42 463.38,180.50 463.61,176.48 463.84,178.42 464.07,170.80 464.30,182.64 464.53,167.62 464.76,177.11 464.99,173.51 465.22,167.55 465.45,183.83 465.68,171.21 465.91,177.20 466.14,179.67 466.37,173.19 466.60,177.46 466.83,178.36 467.06,176.89 467.29,175.36 467.52,173.02 467.76,184.99 467.99,178.12 468.22,181.29 468.45,178.58 468.68,173.90 468.91,177.69 469.14,183.41 469.37,184.42 469.60,185.88 469.83,172.32 470.06,175.35 470.29,169.12 470.52,187.51 470.75,180.36 470.98,181.55 471.21,177.11 471.44,173.29 471.67,176.37 471.91,174.42 472.14,178.92 472.37,183.47 472.60,183.75 472.83,174.49 473.06,171.74 473.29,182.00 473.52,177.14 473.75,171.99 473.98,180.22 474.21,169.60 474.44,168.86 474.67,160.55 474.90,172.90 475.13,178.37 475.36,171.66 475.59,167.61 475.82,178.66 476.05,185.26 476.29,160.85 476.52,173.70 476.75,185.25 476.98,180.94 477.21,183.98 477.44,185.44 477.67,173.65 477.90,182.58 478.13,174.73 478.36,186.11 478.59,186.59 478.82,172.22 479.05,183.79 479.28,166.88 479.51,180.65 479.74,178.92 479.97,180.70 480.20,183.05 480.43,184.83 480.67,179.35 480.90,169.07 481.13,185.68 481.36,168.38 481.59,183.66 481.82,171.44 482.05,185.49 482.28,181.40 482.51,176.38 482.74,184.85 482.97,173.54 483.20,174.48 483.43,176.80 483.66,178.31 483.89,174.66 484.12,185.91 484.35,178.81 484.58,186.63 484.81,175.58 485.05,179.31 485.28,183.99 485.51,187.82 485.74,179.11 485.97,179.43 486.20,186.42 486.43,178.93 486.66,179.08 486.89,186.73 487.12,179.94 487.35,172.68 487.58,186.48 487.81,180.08 488.04,178.01 488.27,185.71 488.50,165.63 488.73,186.65 488.96,171.48 489.19,170.95 489.43,186.56 489.66,179.95 489.89,174.70 490.12,187.62 490.35,177.88 490.58,186.57 490.81,179.81 491.04,178.50 491.27,181.38 491.50,186.02 491.73,187.58 491.96,182.99 492.19,178.64 492.42,185.29 492.65,186.31 492.88,181.13 493.11,183.27 493.34,185.45 493.57,182.96 493.81,182.56 494.04,179.05 494.27,181.98 494.50,176.82 494.73,173.82 494.96,177.17 495.19,180.10 495.42,178.68 495.65,183.33 495.88,179.29 496.11,180.96 496.34,177.93 496.57,173.03 496.80,183.58 497.03,176.80 497.26,180.57 497.49,182.17 497.72,183.12 497.95,179.97 498.19,177.97 498.42,185.99 498.65,182.85 498.88,177.52 499.11,184.35 499.34,181.65 499.57,180.21 499.80,173.94 500.03,177.19 500.26,174.30 500.49,183.60 500.72,184.20 500.95,180.56 501.18,172.23 501.41,176.28 501.64,186.97 501.87,186.10 502.10,180.19 502.34,175.72 502.57,180.81 502.80,180.71 503.03,169.61 503.26,184.02 503.49,183.34 503.72,182.58 503.95,185.07 504.18,185.25 504.41,177.63 504.64,173.69 504.87,180.09 505.10,186.07 505.33,184.77 505.56,178.50 505.79,184.32 506.02,182.53 506.25,178.92 506.48,184.22 506.72,179.08 506.95,179.94 507.18,177.76 507.41,182.54 507.64,181.34 507.87,183.36 508.10,169.15 508.33,180.89 508.56,172.53 508.79,179.63 509.02,175.06 509.25,182.55 509.48,186.77 509.71,185.89 509.94,182.01 510.17,180.30 510.40,168.81 510.63,183.67 510.86,180.07 511.10,180.97 511.33,183.48 511.56,177.96 511.79,182.89 512.02,181.72 512.25,180.90 512.48,185.79 512.71,184.66 512.94,177.59 513.17,186.74 513.40,169.45 513.63,179.22 513.86,177.22 514.09,180.63 514.32,177.53 514.55,179.87 514.78,181.39 515.01,182.21 515.24,179.78 515.48,175.32 515.71,182.94 515.94,183.86 516.17,184.09 516.40,173.18 516.63,176.76 516.86,184.25 517.09,176.72 517.32,175.52 517.55,182.16 517.78,181.22 518.01,184.35 518.24,174.32 518.47,179.42 518.70,180.31 518.93,180.85 519.16,170.74 519.39,183.27 519.62,171.88 519.86,180.61 520.09,186.89 520.32,178.42 520.55,184.15 520.78,182.43 521.01,187.11 521.24,182.30 521.47,179.34 521.70,188.53 521.93,185.00 522.16,178.00 522.39,183.22 522.62,180.90 522.85,186.61 523.08,178.75 523.31,184.33 523.54,187.64 523.77,186.96 524.00,186.86 524.24,184.54 524.47,181.00 524.70,176.75 524.93,179.13 525.16,186.80 525.39,184.99 525.62,177.74 525.85,187.93 526.08,183.25 526.31,179.25 526.54,183.00 526.77,182.22 527.00,180.00 527.23,184.40 527.46,183.47 527.69,180.88 527.92,185.93 528.15,183.62 528.38,181.69 528.62,179.19 528.85,183.30 529.08,179.15 529.31,187.15 529.54,183.29 529.77,187.12 530.00,181.57 530.23,183.01 530.46,183.57 530.69,186.97 530.92,178.76 531.15,182.47 531.38,177.72 531.61,187.17 531.84,186.16 532.07,182.53 532.30,184.89 532.53,183.84 532.77,184.43 533.00,186.53 533.23,188.32 533.46,177.79 533.69,184.10 533.92,187.08 534.15,182.60 534.38,181.06 534.61,179.13 534.84,184.62 535.07,180.52 535.30,182.48 535.53,182.71 535.76,184.64 535.99,187.77 536.22,188.39 536.45,181.70 536.68,181.31 536.91,185.46 537.15,185.21 537.38,181.43 537.61,187.65 537.84,186.16 538.07,180.52 538.30,183.67 538.53,178.51 538.76,183.93 538.99,184.30 539.22,180.32 539.45,178.06 539.68,180.33 539.91,183.66 540.14,177.45 540.37,180.27 540.60,180.59 540.83,183.18 541.06,184.09 541.29,182.63 541.53,184.97 541.76,187.52 541.99,181.19 542.22,188.46 542.45,182.34 542.68,184.64 542.91,182.61 543.14,185.29 543.37,186.72 543.60,186.20" fill="none" stroke="#0072BD" stroke-width="0.5" stroke-linejoin="round"/>
<g fill="none" stroke="#0072BD" stroke-linejoin="round"><path d="M428.08 172.62L428.30 8.40L428.52 170.02" stroke-width="0.45"/><path d="M439.43 168.14L439.65 98.58L439.87 174.98" stroke-width="0.28"/><path d="M451.08 178.05L451.30 127.88L451.52 169.13" stroke-width="0.3"/></g>
<rect x="313.30" y="8.40" width="230.30" height="180.90" fill="none" stroke="#666" stroke-width="0.85"/>
<path d="M313.30 189.30v-2.3M313.30 8.40v2.3M336.33 189.30v-2.3M336.33 8.40v2.3M359.36 189.30v-2.3M359.36 8.40v2.3M382.39 189.30v-2.3M382.39 8.40v2.3M405.42 189.30v-2.3M405.42 8.40v2.3M428.45 189.30v-2.3M428.45 8.40v2.3M451.48 189.30v-2.3M451.48 8.40v2.3M474.51 189.30v-2.3M474.51 8.40v2.3M497.54 189.30v-2.3M497.54 8.40v2.3M520.57 189.30v-2.3M520.57 8.40v2.3M543.60 189.30v-2.3M543.60 8.40v2.3M313.30 189.30h2.3M543.60 189.30h-2.3M313.30 171.21h2.3M543.60 171.21h-2.3M313.30 153.12h2.3M543.60 153.12h-2.3M313.30 135.03h2.3M543.60 135.03h-2.3M313.30 116.94h2.3M543.60 116.94h-2.3M313.30 98.85h2.3M543.60 98.85h-2.3M313.30 80.76h2.3M543.60 80.76h-2.3M313.30 62.67h2.3M543.60 62.67h-2.3M313.30 44.58h2.3M543.60 44.58h-2.3M313.30 26.49h2.3M543.60 26.49h-2.3M313.30 8.40h2.3M543.60 8.40h-2.3" stroke="#262626" stroke-width="0.5" fill="none"/>
<g font-family="Liberation Sans, Arial, sans-serif" font-size="7.0" fill="#262626" stroke="#262626" stroke-width="0.26">
<text x="313.30" y="199.90" text-anchor="middle">4.9</text>
<text x="336.33" y="199.90" text-anchor="middle">4.92</text>
<text x="359.36" y="199.90" text-anchor="middle">4.94</text>
<text x="382.39" y="199.90" text-anchor="middle">4.96</text>
<text x="405.42" y="199.90" text-anchor="middle">4.98</text>
<text x="428.45" y="199.90" text-anchor="middle">5</text>
<text x="451.48" y="199.90" text-anchor="middle">5.02</text>
<text x="474.51" y="199.90" text-anchor="middle">5.04</text>
<text x="497.54" y="199.90" text-anchor="middle">5.06</text>
<text x="520.57" y="199.90" text-anchor="middle">5.08</text>
<text x="543.60" y="199.90" text-anchor="middle">5.1</text>
<text x="310.70" y="191.75" text-anchor="end">0</text>
<text x="310.70" y="173.66" text-anchor="end">0.2</text>
<text x="310.70" y="155.57" text-anchor="end">0.4</text>
<text x="310.70" y="137.48" text-anchor="end">0.6</text>
<text x="310.70" y="119.39" text-anchor="end">0.8</text>
<text x="310.70" y="101.30" text-anchor="end">1</text>
<text x="310.70" y="83.21" text-anchor="end">1.2</text>
<text x="310.70" y="65.12" text-anchor="end">1.4</text>
<text x="310.70" y="47.03" text-anchor="end">1.6</text>
<text x="310.70" y="28.94" text-anchor="end">1.8</text>
<text x="310.70" y="10.85" text-anchor="end">2</text>
<text x="543.30" y="211.50" text-anchor="end"><tspan font-size="8.05">×</tspan><tspan dx="0.6">10</tspan><tspan dy="-2.9" font-size="5.60">6</tspan></text>
<text x="428.85" y="209.70" text-anchor="middle" font-size="7.77">Cyclic Frequency-α(Hz)</text>
<text transform="translate(293.20 98.85) rotate(-90)" text-anchor="middle" letter-spacing="0.08" font-size="7.77">amplitude -|C<tspan dy="2.5" font-size="6.68">40</tspan><tspan dy="-2.5">|</tspan></text>
</g>
<g font-family="Liberation Sans, Arial, sans-serif" font-size="7.2" fill="#000" stroke="#000" stroke-width="0.32">
<rect x="381.50" y="89.30" width="24.90" height="12.70" fill="#fff" stroke="#555" stroke-width="0.55"/>
<text x="394.45" y="98.25" text-anchor="middle">BPSK</text>
<path d="M406.40 95.65L422.44 90.94" stroke="#000" stroke-width="0.62" fill="none"/>
<path d="M428.00 89.30L422.05 93.86L423.30 90.68L420.52 88.68Z" fill="#000"/>
<rect x="457.80" y="108.30" width="24.90" height="13.30" fill="#fff" stroke="#555" stroke-width="0.55"/>
<text x="470.75" y="117.55" text-anchor="middle">QPSK</text>
<path d="M457.80 114.95L445.25 109.06" stroke="#000" stroke-width="0.62" fill="none"/>
<path d="M440.00 106.60L447.48 107.13L444.44 108.68L445.19 112.02Z" fill="#000"/>
<rect x="470.40" y="136.20" width="29.30" height="13.00" fill="#fff" stroke="#555" stroke-width="0.55"/>
<text x="485.55" y="145.30" text-anchor="middle">16QAM</text>
<path d="M470.40 142.70L456.65 136.26" stroke="#000" stroke-width="0.62" fill="none"/>
<path d="M451.40 133.80L458.88 134.32L455.84 135.88L456.59 139.21Z" fill="#000"/>
</g>
<text x="416.80" y="229.80" text-anchor="middle" font-family="Liberation Serif, Times New Roman, serif" font-size="14" fill="#111" letter-spacing="0.7">(<tspan font-weight="bold">b</tspan>)</text>
<rect x="29.50" y="241.40" width="227.90" height="179.90" fill="#fff"/>
<path d="M52.29 241.40V421.30M75.08 241.40V421.30M97.87 241.40V421.30M120.66 241.40V421.30M143.45 241.40V421.30M166.24 241.40V421.30M189.03 241.40V421.30M211.82 241.40V421.30M234.61 241.40V421.30M29.50 395.60H257.40M29.50 369.90H257.40M29.50 344.20H257.40M29.50 318.50H257.40M29.50 292.80H257.40M29.50 267.10H257.40" stroke="#000" stroke-opacity="0.075" stroke-width="0.5" fill="none"/>
<polyline points="29.50,412.61 29.70,414.41 29.90,409.30 30.10,412.11 30.29,416.91 30.49,416.96 30.69,406.06 30.89,407.82 31.09,403.33 31.29,411.18 31.48,401.83 31.68,411.34 31.88,413.59 32.08,408.90 32.28,413.88 32.48,412.87 32.67,401.09 32.87,412.46 33.07,408.49 33.27,410.69 33.47,408.83 33.67,414.00 33.86,410.96 34.06,406.42 34.26,412.19 34.46,415.06 34.66,409.06 34.86,407.65 35.05,410.17 35.25,417.58 35.45,418.68 35.65,413.63 35.85,416.88 36.05,415.92 36.24,409.92 36.44,404.29 36.64,413.33 36.84,412.15 37.04,409.62 37.24,407.43 37.43,410.19 37.63,410.99 37.83,408.13 38.03,408.47 38.23,410.79 38.43,416.04 38.62,412.36 38.82,408.25 39.02,408.14 39.22,410.66 39.42,406.78 39.62,406.67 39.81,411.36 40.01,403.57 40.21,410.94 40.41,409.28 40.61,413.74 40.81,414.25 41.00,413.50 41.20,413.46 41.40,409.34 41.60,413.16 41.80,408.80 42.00,411.92 42.19,408.54 42.39,410.23 42.59,402.02 42.79,407.07 42.99,418.33 43.19,406.79 43.38,413.34 43.58,412.79 43.78,413.75 43.98,410.47 44.18,412.04 44.38,401.98 44.57,402.21 44.77,405.93 44.97,404.80 45.17,403.21 45.37,404.11 45.57,411.36 45.76,405.55 45.96,417.63 46.16,413.00 46.36,411.12 46.56,413.32 46.76,406.94 46.95,416.94 47.15,415.25 47.35,413.53 47.55,410.18 47.75,415.26 47.95,413.75 48.14,412.56 48.34,416.60 48.54,412.16 48.74,408.39 48.94,411.04 49.14,405.24 49.33,405.12 49.53,413.36 49.73,414.23 49.93,418.16 50.13,415.28 50.33,410.78 50.52,401.89 50.72,409.97 50.92,416.81 51.12,414.17 51.32,409.86 51.52,409.41 51.71,405.33 51.91,404.36 52.11,400.88 52.31,415.95 52.51,411.91 52.71,403.33 52.90,408.63 53.10,399.29 53.30,404.90 53.50,413.14 53.70,411.96 53.90,409.49 54.09,406.13 54.29,411.92 54.49,417.46 54.69,408.75 54.89,400.16 55.09,399.43 55.29,400.70 55.48,417.53 55.68,410.19 55.88,414.70 56.08,403.50 56.28,405.53 56.48,412.32 56.67,415.80 56.87,406.94 57.07,399.43 57.27,415.12 57.47,405.95 57.67,412.97 57.86,402.86 58.06,412.23 58.26,414.62 58.46,412.69 58.66,407.01 58.86,412.65 59.05,402.10 59.25,406.12 59.45,407.91 59.65,415.24 59.85,402.39 60.05,415.28 60.24,413.73 60.44,417.81 60.64,406.89 60.84,403.58 61.04,404.38 61.24,414.18 61.43,417.52 61.63,411.97 61.83,408.62 62.03,405.20 62.23,414.22 62.43,414.98 62.62,399.65 62.82,403.52 63.02,414.13 63.22,414.44 63.42,405.53 63.62,404.79 63.81,407.54 64.01,409.26 64.21,399.47 64.41,414.14 64.61,409.12 64.81,412.97 65.00,403.51 65.20,417.39 65.40,412.51 65.60,405.75 65.80,416.76 66.00,411.61 66.19,414.09 66.39,396.06 66.59,396.78 66.79,412.25 66.99,404.79 67.19,408.53 67.38,401.07 67.58,417.87 67.78,408.23 67.98,413.73 68.18,397.56 68.38,407.76 68.57,396.77 68.77,414.86 68.97,407.12 69.17,397.02 69.37,397.43 69.57,408.61 69.76,397.30 69.96,401.42 70.16,406.79 70.36,407.82 70.56,409.23 70.76,409.82 70.95,405.52 71.15,409.75 71.35,400.35 71.55,403.44 71.75,412.86 71.95,400.10 72.14,402.09 72.34,402.55 72.54,407.23 72.74,384.96 72.94,392.94 73.14,406.84 73.33,400.14 73.53,410.54 73.73,412.64 73.93,408.76 74.13,410.75 74.33,405.38 74.52,394.17 74.72,406.23 74.92,404.93 75.12,408.95 75.32,398.76 75.52,401.61 75.71,412.88 75.91,402.46 76.11,405.50 76.31,415.86 76.51,402.62 76.71,398.89 76.90,410.62 77.10,408.20 77.30,408.96 77.50,393.04 77.70,405.40 77.90,384.94 78.09,401.64 78.29,410.56 78.49,394.40 78.69,402.70 78.89,418.17 79.09,417.14 79.28,406.40 79.48,411.01 79.68,409.08 79.88,406.02 80.08,413.50 80.28,399.12 80.48,412.82 80.67,392.25 80.87,413.69 81.07,409.73 81.27,405.46 81.47,409.61 81.67,405.68 81.86,411.68 82.06,396.50 82.26,406.51 82.46,413.69 82.66,415.27 82.86,400.10 83.05,400.93 83.25,414.52 83.45,403.09 83.65,392.82 83.85,410.20 84.05,404.45 84.24,410.57 84.44,405.64 84.64,406.07 84.84,404.40 85.04,401.57 85.24,414.31 85.43,409.16 85.63,411.56 85.83,414.13 86.03,400.37 86.23,414.84 86.43,413.21 86.62,405.92 86.82,407.09 87.02,395.53 87.22,410.86 87.42,397.78 87.62,406.34 87.81,395.88 88.01,392.98 88.21,407.72 88.41,405.40 88.61,408.96 88.81,411.35 89.00,417.47 89.20,393.42 89.40,408.03 89.60,406.95 89.80,408.37 90.00,406.24 90.19,406.49 90.39,413.11 90.59,404.33 90.79,405.98 90.99,409.06 91.19,393.31 91.38,403.80 91.58,393.93 91.78,395.58 91.98,378.53 92.18,398.12 92.38,398.30 92.57,405.39 92.77,406.46 92.97,411.80 93.17,404.72 93.37,413.57 93.57,402.70 93.76,409.93 93.96,405.97 94.16,407.39 94.36,399.53 94.56,415.05 94.76,410.40 94.95,395.29 95.15,405.52 95.35,418.58 95.55,389.32 95.75,400.18 95.95,409.67 96.14,388.13 96.34,409.76 96.54,406.11 96.74,409.40 96.94,405.60 97.14,415.00 97.33,401.04 97.53,406.02 97.73,388.99 97.93,405.54 98.13,402.64 98.33,417.24 98.52,415.20 98.72,394.27 98.92,387.75 99.12,393.37 99.32,396.31 99.52,409.05 99.71,405.15 99.91,404.94 100.11,403.40 100.31,379.63 100.51,401.71 100.71,419.15 100.90,411.16 101.10,405.61 101.30,396.11 101.50,414.09 101.70,402.30 101.90,406.52 102.09,396.22 102.29,399.89 102.49,400.29 102.69,401.49 102.89,383.92 103.09,407.30 103.28,394.80 103.48,406.03 103.68,406.36 103.88,408.06 104.08,398.67 104.28,398.64 104.47,409.33 104.67,401.08 104.87,393.81 105.07,413.39 105.27,381.04 105.47,412.75 105.67,398.46 105.86,400.78 106.06,416.67 106.26,402.05 106.46,408.26 106.66,401.43 106.86,413.59 107.05,408.30 107.25,402.96 107.45,389.72 107.65,400.11 107.85,403.12 108.05,397.90 108.24,404.07 108.44,395.48 108.64,403.12 108.84,403.86 109.04,407.09 109.24,408.75 109.43,408.37 109.63,401.38 109.83,402.12 110.03,412.12 110.23,399.79 110.43,408.50 110.62,418.05 110.82,413.85 111.02,404.14 111.22,398.11 111.42,405.75 111.62,407.15 111.81,403.56 112.01,399.02 112.21,401.86 112.41,388.69 112.61,397.55 112.81,392.24 113.00,406.64 113.20,415.32 113.40,392.72 113.60,382.79 113.80,408.36 114.00,399.15 114.19,402.87 114.39,386.69 114.59,393.43 114.79,407.20 114.99,405.09 115.19,411.27 115.38,415.46 115.58,399.13 115.78,405.38 115.98,401.33 116.18,402.69 116.38,399.89 116.57,416.34 116.77,405.38 116.97,391.53 117.17,407.10 117.37,415.57 117.57,412.49 117.76,403.79 117.96,378.89 118.16,409.77 118.36,413.88 118.56,407.90 118.76,400.63 118.95,399.38 119.15,408.13 119.35,389.40 119.55,409.14 119.75,402.25 119.95,386.67 120.14,410.17 120.34,399.54 120.54,389.19 120.74,392.53 120.94,411.21 121.14,392.44 121.33,409.05 121.53,409.58 121.73,387.71 121.93,400.54 122.13,409.09 122.33,401.86 122.52,411.36 122.72,399.04 122.92,405.11 123.12,393.87 123.32,410.60 123.52,410.51 123.71,403.59 123.91,397.37 124.11,398.05 124.31,404.24 124.51,389.99 124.71,402.20 124.90,396.47 125.10,397.81 125.30,397.23 125.50,410.30 125.70,392.13 125.90,394.46 126.09,391.61 126.29,377.75 126.49,399.98 126.69,410.54 126.89,412.49 127.09,401.50 127.28,399.83 127.48,411.28 127.68,402.48 127.88,402.96 128.08,405.37 128.28,386.51 128.47,410.33 128.67,388.30 128.87,402.51 129.07,413.36 129.27,402.89 129.47,397.56 129.66,407.23 129.86,412.36 130.06,404.49 130.26,384.21 130.46,411.56 130.66,378.12 130.86,405.98 131.05,412.30 131.25,390.90 131.45,402.31 131.65,406.62 131.85,391.69 132.05,394.37 132.24,385.11 132.44,390.91 132.64,388.78 132.84,395.84 133.04,407.75 133.24,406.29 133.43,408.06 133.63,405.44 133.83,408.92 134.03,390.34 134.23,402.85 134.43,378.71 134.62,401.30 134.82,410.34 135.02,400.80 135.22,395.90 135.42,395.22 135.62,398.72 135.81,412.76 136.01,415.83 136.21,407.63 136.41,416.95 136.61,408.00 136.81,395.49 137.00,399.79 137.20,406.96 137.40,406.60 137.60,405.82 137.80,401.12 138.00,389.90 138.19,414.89 138.39,393.22 138.59,416.21 138.79,389.04 138.99,416.28 139.19,398.16 139.38,409.31 139.58,373.34 139.78,400.00 139.98,394.24 140.18,406.20 140.38,405.41 140.57,400.42 140.77,406.50 140.97,416.11 141.17,386.87 141.37,402.93 141.57,405.72 141.76,404.66 141.96,394.67 142.16,411.29 142.36,394.09 142.56,410.32 142.76,400.64 142.95,389.82 143.15,409.69 143.35,385.72 143.55,408.84 143.75,403.84 143.95,411.35 144.14,409.08 144.34,398.84 144.54,389.41 144.74,394.80 144.94,368.59 145.14,405.16 145.33,386.31 145.53,391.53 145.73,394.08 145.93,398.96 146.13,406.00 146.33,399.97 146.52,401.48 146.72,386.89 146.92,368.62 147.12,392.68 147.32,407.35 147.52,377.50 147.71,404.28 147.91,406.29 148.11,401.53 148.31,382.42 148.51,394.34 148.71,393.88 148.90,394.92 149.10,394.77 149.30,415.71 149.50,408.77 149.70,411.88 149.90,406.72 150.09,397.38 150.29,413.97 150.49,401.07 150.69,391.91 150.89,407.14 151.09,394.70 151.28,409.70 151.48,407.44 151.68,395.73 151.88,400.48 152.08,406.80 152.28,405.62 152.47,402.17 152.67,393.14 152.87,396.82 153.07,406.31 153.27,400.45 153.47,406.90 153.66,406.05 153.86,397.77 154.06,387.58 154.26,405.99 154.46,397.79 154.66,403.17 154.85,389.20 155.05,390.32 155.25,399.67 155.45,405.74 155.65,388.82 155.85,408.44 156.04,410.66 156.24,405.85 156.44,407.80 156.64,394.24 156.84,387.84 157.04,397.15 157.24,389.39 157.43,399.58 157.63,408.14 157.83,395.74 158.03,410.85 158.23,400.56 158.43,391.30 158.62,405.19 158.82,400.23 159.02,397.30 159.22,402.18 159.42,417.42 159.62,407.96 159.81,396.26 160.01,413.47 160.21,392.41 160.41,399.53 160.61,398.59 160.81,416.86 161.00,372.45 161.20,405.47 161.40,402.11 161.60,391.29 161.80,405.32 162.00,409.55 162.19,408.45 162.39,386.73 162.59,409.22 162.79,398.01 162.99,410.89 163.19,403.50 163.38,387.02 163.58,407.94 163.78,403.57 163.98,400.87 164.18,405.37 164.38,400.70 164.57,382.76 164.77,412.99 164.97,396.48 165.17,396.23 165.37,384.48 165.57,407.34 165.76,412.90 165.96,401.30 166.16,409.89 166.36,397.81 166.56,399.36 166.76,396.76 166.95,396.88 167.15,403.73 167.35,397.82 167.55,386.37 167.75,406.80 167.95,397.38 168.14,399.69 168.34,393.29 168.54,384.89 168.74,406.01 168.94,400.55 169.14,413.92 169.33,380.13 169.53,410.34 169.73,380.10 169.93,392.93 170.13,378.82 170.33,402.75 170.52,398.89 170.72,397.94 170.92,416.15 171.12,404.40 171.32,413.74 171.52,412.38 171.71,398.63 171.91,406.20 172.11,394.08 172.31,399.39 172.51,406.97 172.71,404.32 172.90,388.67 173.10,388.20 173.30,409.11 173.50,407.42 173.70,406.21 173.90,395.25 174.09,409.48 174.29,404.63 174.49,392.40 174.69,393.27 174.89,405.67 175.09,416.52 175.28,404.92 175.48,397.80 175.68,407.92 175.88,394.89 176.08,406.23 176.28,401.03 176.47,383.81 176.67,403.47 176.87,403.29 177.07,413.41 177.27,407.91 177.47,398.29 177.66,406.44 177.86,396.74 178.06,406.68 178.26,405.52 178.46,405.83 178.66,393.64 178.85,408.02 179.05,404.18 179.25,408.79 179.45,386.27 179.65,408.60 179.85,415.07 180.04,405.33 180.24,392.97 180.44,413.99 180.64,404.73 180.84,397.98 181.04,406.22 181.23,411.91 181.43,391.56 181.63,404.91 181.83,406.52 182.03,414.15 182.23,386.06 182.43,403.85 182.62,408.81 182.82,407.20 183.02,412.09 183.22,407.16 183.42,406.64 183.62,406.19 183.81,394.62 184.01,411.95 184.21,404.22 184.41,383.83 184.61,411.08 184.81,408.00 185.00,407.34 185.20,388.21 185.40,408.42 185.60,400.28 185.80,411.00 186.00,394.64 186.19,400.29 186.39,392.18 186.59,383.71 186.79,400.07 186.99,408.43 187.19,402.45 187.38,399.49 187.58,414.78 187.78,409.09 187.98,416.46 188.18,399.74 188.38,396.49 188.57,416.29 188.77,391.21 188.97,410.52 189.17,415.30 189.37,409.04 189.57,406.04 189.76,401.61 189.96,399.81 190.16,390.61 190.36,401.92 190.56,404.67 190.76,398.63 190.95,416.44 191.15,419.11 191.35,399.86 191.55,406.78 191.75,413.21 191.95,406.49 192.14,401.54 192.34,412.24 192.54,405.44 192.74,407.29 192.94,410.18 193.14,400.11 193.33,408.72 193.53,399.58 193.73,408.07 193.93,399.37 194.13,411.16 194.33,401.75 194.52,416.11 194.72,396.89 194.92,409.45 195.12,412.66 195.32,413.11 195.52,405.61 195.71,406.22 195.91,400.70 196.11,412.77 196.31,410.58 196.51,405.60 196.71,405.42 196.90,414.63 197.10,406.61 197.30,393.90 197.50,394.70 197.70,410.79 197.90,406.01 198.09,406.64 198.29,404.20 198.49,387.70 198.69,411.67 198.89,403.19 199.09,404.94 199.28,404.49 199.48,396.27 199.68,416.44 199.88,416.28 200.08,384.93 200.28,391.92 200.47,403.52 200.67,417.50 200.87,405.52 201.07,414.95 201.27,402.67 201.47,405.86 201.66,412.48 201.86,409.01 202.06,401.98 202.26,405.21 202.46,408.42 202.66,404.15 202.85,399.23 203.05,400.05 203.25,410.73 203.45,399.71 203.65,398.98 203.85,401.81 204.04,418.13 204.24,418.35 204.44,405.95 204.64,400.14 204.84,405.30 205.04,414.03 205.23,407.90 205.43,414.53 205.63,414.00 205.83,412.46 206.03,414.11 206.23,406.80 206.42,398.96 206.62,411.80 206.82,418.51 207.02,409.60 207.22,401.38 207.42,415.45 207.62,415.33 207.81,415.35 208.01,409.71 208.21,415.83 208.41,401.22 208.61,408.21 208.81,418.66 209.00,418.83 209.20,412.44 209.40,408.51 209.60,409.25 209.80,405.01 210.00,401.23 210.19,414.69 210.39,408.59 210.59,404.46 210.79,403.84 210.99,399.96 211.19,400.38 211.38,410.14 211.58,403.07 211.78,403.77 211.98,413.58 212.18,397.14 212.38,416.40 212.57,405.83 212.77,413.26 212.97,413.20 213.17,410.58 213.37,394.94 213.57,410.13 213.76,406.57 213.96,403.98 214.16,407.89 214.36,410.38 214.56,405.65 214.76,406.03 214.95,401.92 215.15,400.56 215.35,409.78 215.55,417.58 215.75,398.13 215.95,410.41 216.14,409.48 216.34,412.01 216.54,404.56 216.74,403.36 216.94,403.95 217.14,413.79 217.33,414.03 217.53,413.32 217.73,403.90 217.93,405.90 218.13,404.21 218.33,411.14 218.52,403.04 218.72,412.14 218.92,413.04 219.12,408.73 219.32,401.59 219.52,403.83 219.71,409.34 219.91,412.10 220.11,402.46 220.31,410.70 220.51,415.59 220.71,412.12 220.90,415.12 221.10,417.11 221.30,404.38 221.50,402.88 221.70,415.46 221.90,406.67 222.09,399.87 222.29,410.51 222.49,408.24 222.69,402.68 222.89,415.91 223.09,408.34 223.28,418.80 223.48,404.87 223.68,397.81 223.88,415.74 224.08,405.26 224.28,416.17 224.47,408.58 224.67,411.83 224.87,400.74 225.07,404.77 225.27,411.66 225.47,417.06 225.66,414.03 225.86,415.77 226.06,413.27 226.26,417.82 226.46,404.42 226.66,401.31 226.85,404.53 227.05,410.33 227.25,407.08 227.45,396.79 227.65,401.57 227.85,405.53 228.04,406.57 228.24,406.28 228.44,410.26 228.64,411.61 228.84,414.70 229.04,407.47 229.23,416.79 229.43,407.54 229.63,408.25 229.83,408.13 230.03,413.40 230.23,413.00 230.42,408.33 230.62,407.05 230.82,400.52 231.02,405.46 231.22,400.28 231.42,406.98 231.61,404.12 231.81,411.76 232.01,413.27 232.21,409.54 232.41,409.47 232.61,407.35 232.81,417.56 233.00,419.19 233.20,411.84 233.40,415.00 233.60,407.98 233.80,411.12 234.00,407.93 234.19,417.30 234.39,411.46 234.59,415.99 234.79,411.64 234.99,401.42 235.19,407.07 235.38,411.34 235.58,416.50 235.78,412.26 235.98,407.94 236.18,412.31 236.38,411.98 236.57,418.15 236.77,411.67 236.97,394.83 237.17,418.85 237.37,403.92 237.57,408.24 237.76,417.91 237.96,412.66 238.16,412.81 238.36,409.43 238.56,408.96 238.76,407.45 238.95,413.99 239.15,408.48 239.35,403.61 239.55,405.66 239.75,404.25 239.95,416.32 240.14,407.01 240.34,406.35 240.54,412.63 240.74,407.66 240.94,414.75 241.14,413.10 241.33,411.83 241.53,410.35 241.73,408.96 241.93,409.91 242.13,413.45 242.33,401.54 242.52,406.65 242.72,413.39 242.92,413.53 243.12,411.76 243.32,407.31 243.52,406.66 243.71,411.31 243.91,407.42 244.11,414.02 244.31,414.43 244.51,413.78 244.71,412.62 244.90,416.46 245.10,411.68 245.30,407.90 245.50,407.15 245.70,403.84 245.90,412.57 246.09,414.50 246.29,412.50 246.49,404.95 246.69,413.69 246.89,414.20 247.09,409.44 247.28,411.80 247.48,403.26 247.68,412.47 247.88,399.33 248.08,409.24 248.28,415.24 248.47,412.90 248.67,409.68 248.87,417.01 249.07,412.92 249.27,417.36 249.47,411.26 249.66,413.30 249.86,413.17 250.06,402.46 250.26,405.67 250.46,405.28 250.66,407.23 250.85,419.15 251.05,413.61 251.25,414.23 251.45,417.25 251.65,406.82 251.85,414.68 252.04,411.89 252.24,410.09 252.44,414.62 252.64,415.32 252.84,412.81 253.04,413.91 253.23,416.11 253.43,409.96 253.63,415.89 253.83,411.48 254.03,417.21 254.23,414.36 254.42,413.15 254.62,418.88 254.82,411.96 255.02,407.85 255.22,412.19 255.42,410.31 255.61,418.55 255.81,407.23 256.01,413.35 256.21,412.63 256.41,406.03 256.61,414.24 256.80,412.90 257.00,411.22 257.20,418.13 257.40,405.75" fill="none" stroke="#0072BD" stroke-width="0.5" stroke-linejoin="round"/>
<g fill="none" stroke="#0072BD" stroke-linejoin="round"><path d="M143.23 385.72L143.45 246.54L143.67 408.84" stroke-width="0.32"/><path d="M154.33 397.79L154.55 246.54L154.77 403.17" stroke-width="0.32"/></g>
<rect x="29.50" y="241.40" width="227.90" height="179.90" fill="none" stroke="#666" stroke-width="0.85"/>
<path d="M29.50 421.30v-2.3M29.50 241.40v2.3M52.29 421.30v-2.3M52.29 241.40v2.3M75.08 421.30v-2.3M75.08 241.40v2.3M97.87 421.30v-2.3M97.87 241.40v2.3M120.66 421.30v-2.3M120.66 241.40v2.3M143.45 421.30v-2.3M143.45 241.40v2.3M166.24 421.30v-2.3M166.24 241.40v2.3M189.03 421.30v-2.3M189.03 241.40v2.3M211.82 421.30v-2.3M211.82 241.40v2.3M234.61 421.30v-2.3M234.61 241.40v2.3M257.40 421.30v-2.3M257.40 241.40v2.3M29.50 421.30h2.3M257.40 421.30h-2.3M29.50 395.60h2.3M257.40 395.60h-2.3M29.50 369.90h2.3M257.40 369.90h-2.3M29.50 344.20h2.3M257.40 344.20h-2.3M29.50 318.50h2.3M257.40 318.50h-2.3M29.50 292.80h2.3M257.40 292.80h-2.3M29.50 267.10h2.3M257.40 267.10h-2.3M29.50 241.40h2.3M257.40 241.40h-2.3" stroke="#262626" stroke-width="0.5" fill="none"/>
<g font-family="Liberation Sans, Arial, sans-serif" font-size="7.0" fill="#262626" stroke="#262626" stroke-width="0.26">
<text x="29.50" y="431.90" text-anchor="middle">4.9</text>
<text x="52.29" y="431.90" text-anchor="middle">4.92</text>
<text x="75.08" y="431.90" text-anchor="middle">4.94</text>
<text x="97.87" y="431.90" text-anchor="middle">4.96</text>
<text x="120.66" y="431.90" text-anchor="middle">4.98</text>
<text x="143.45" y="431.90" text-anchor="middle">5</text>
<text x="166.24" y="431.90" text-anchor="middle">5.02</text>
<text x="189.03" y="431.90" text-anchor="middle">5.04</text>
<text x="211.82" y="431.90" text-anchor="middle">5.06</text>
<text x="234.61" y="431.90" text-anchor="middle">5.08</text>
<text x="257.40" y="431.90" text-anchor="middle">5.1</text>
<text x="26.90" y="423.75" text-anchor="end">0</text>
<text x="26.90" y="398.05" text-anchor="end">0.1</text>
<text x="26.90" y="372.35" text-anchor="end">0.2</text>
<text x="26.90" y="346.65" text-anchor="end">0.3</text>
<text x="26.90" y="320.95" text-anchor="end">0.4</text>
<text x="26.90" y="295.25" text-anchor="end">0.5</text>
<text x="26.90" y="269.55" text-anchor="end">0.6</text>
<text x="26.90" y="243.85" text-anchor="end">0.7</text>
<text x="257.10" y="443.00" text-anchor="end"><tspan font-size="8.05">×</tspan><tspan dx="0.6">10</tspan><tspan dy="-2.9" font-size="5.60">6</tspan></text>
<text x="143.85" y="441.70" text-anchor="middle" font-size="7.77">Cyclic Frequency-α(Hz)</text>
<text transform="translate(10.00 331.35) rotate(-90)" text-anchor="middle" letter-spacing="0.08" font-size="7.77">amplitude -|C<tspan dy="2.5" font-size="6.68">40</tspan><tspan dy="-2.5">|</tspan></text>
</g>
<g font-family="Liberation Sans, Arial, sans-serif" font-size="7.2" fill="#000" stroke="#000" stroke-width="0.32">
<rect x="88.80" y="313.30" width="32.10" height="12.70" fill="#fff" stroke="#555" stroke-width="0.55"/>
<text x="105.35" y="322.25" text-anchor="middle">16QAM</text>
<path d="M120.90 319.65L137.24 313.77" stroke="#000" stroke-width="0.62" fill="none"/>
<path d="M142.70 311.80L137.03 316.71L138.09 313.46L135.20 311.63Z" fill="#000"/>
<rect x="175.40" y="339.80" width="32.40" height="12.70" fill="#fff" stroke="#555" stroke-width="0.55"/>
<text x="192.10" y="348.75" text-anchor="middle">16QAM</text>
<path d="M175.40 346.15L160.58 340.17" stroke="#000" stroke-width="0.62" fill="none"/>
<path d="M155.20 338.00L162.70 338.12L159.74 339.83L160.68 343.12Z" fill="#000"/>
</g>
<text x="132.00" y="461.70" text-anchor="middle" font-family="Liberation Serif, Times New Roman, serif" font-size="14" fill="#111" letter-spacing="0">(<tspan font-weight="bold">c</tspan>)</text>
<rect x="313.00" y="240.60" width="229.60" height="180.60" fill="#fff"/>
<path d="M335.96 240.60V421.20M358.92 240.60V421.20M381.88 240.60V421.20M404.84 240.60V421.20M427.80 240.60V421.20M450.76 240.60V421.20M473.72 240.60V421.20M496.68 240.60V421.20M519.64 240.60V421.20M313.00 391.10H542.60M313.00 361.00H542.60M313.00 330.90H542.60M313.00 300.80H542.60M313.00 270.70H542.60" stroke="#000" stroke-opacity="0.075" stroke-width="0.5" fill="none"/>
<polyline points="313.00,419.35 313.21,415.28 313.42,419.45 313.63,416.68 313.84,416.52 314.04,411.80 314.25,419.51 314.46,404.28 314.67,412.26 314.88,414.21 315.09,417.20 315.30,411.44 315.51,417.99 315.72,419.65 315.92,410.84 316.13,415.59 316.34,404.18 316.55,413.65 316.76,407.42 316.97,419.12 317.18,414.10 317.39,419.00 317.60,417.19 317.81,417.97 318.01,410.84 318.22,408.54 318.43,415.52 318.64,410.70 318.85,416.67 319.06,413.73 319.27,414.84 319.48,418.79 319.69,414.77 319.89,409.35 320.10,410.41 320.31,414.95 320.52,414.75 320.73,415.75 320.94,413.55 321.15,415.84 321.36,413.48 321.57,415.59 321.77,416.88 321.98,410.62 322.19,413.20 322.40,414.45 322.61,416.10 322.82,411.70 323.03,414.90 323.24,415.52 323.45,418.16 323.65,412.96 323.86,415.61 324.07,410.66 324.28,414.30 324.49,410.47 324.70,418.42 324.91,413.61 325.12,417.38 325.33,413.43 325.54,418.22 325.74,413.28 325.95,412.44 326.16,414.89 326.37,417.51 326.58,417.67 326.79,415.08 327.00,407.95 327.21,415.07 327.42,411.21 327.62,416.32 327.83,418.03 328.04,414.24 328.25,415.08 328.46,407.06 328.67,414.45 328.88,408.96 329.09,415.13 329.30,412.57 329.50,416.59 329.71,406.13 329.92,408.36 330.13,415.74 330.34,414.10 330.55,414.64 330.76,417.34 330.97,413.78 331.18,416.96 331.38,413.98 331.59,418.37 331.80,415.49 332.01,409.06 332.22,412.35 332.43,417.54 332.64,412.14 332.85,409.77 333.06,413.48 333.26,412.59 333.47,414.93 333.68,413.05 333.89,410.84 334.10,412.75 334.31,412.81 334.52,417.94 334.73,419.29 334.94,414.89 335.15,406.88 335.35,415.97 335.56,415.41 335.77,416.95 335.98,411.82 336.19,405.74 336.40,414.69 336.61,407.93 336.82,416.18 337.03,416.55 337.23,412.45 337.44,418.49 337.65,408.94 337.86,418.46 338.07,413.03 338.28,416.15 338.49,416.03 338.70,419.26 338.91,419.05 339.11,404.23 339.32,401.82 339.53,413.77 339.74,403.66 339.95,414.94 340.16,413.63 340.37,415.01 340.58,412.55 340.79,410.32 340.99,418.50 341.20,415.62 341.41,399.87 341.62,406.53 341.83,414.55 342.04,410.42 342.25,412.01 342.46,416.15 342.67,411.28 342.88,418.03 343.08,415.43 343.29,413.58 343.50,408.38 343.71,411.90 343.92,415.86 344.13,419.48 344.34,405.16 344.55,407.16 344.76,415.55 344.96,416.65 345.17,405.63 345.38,416.58 345.59,416.05 345.80,414.91 346.01,410.75 346.22,412.10 346.43,411.07 346.64,416.66 346.84,410.50 347.05,410.39 347.26,418.06 347.47,417.78 347.68,418.74 347.89,416.19 348.10,405.10 348.31,405.22 348.52,413.24 348.72,416.78 348.93,417.17 349.14,414.10 349.35,418.40 349.56,406.89 349.77,408.39 349.98,410.22 350.19,408.98 350.40,409.87 350.61,405.79 350.81,410.74 351.02,401.20 351.23,412.78 351.44,418.13 351.65,411.59 351.86,413.76 352.07,413.60 352.28,417.86 352.49,415.03 352.69,416.17 352.90,409.94 353.11,417.37 353.32,407.15 353.53,410.91 353.74,414.99 353.95,409.79 354.16,416.98 354.37,416.59 354.57,406.49 354.78,407.91 354.99,402.19 355.20,416.52 355.41,409.71 355.62,410.48 355.83,408.51 356.04,405.08 356.25,411.30 356.45,407.76 356.66,412.63 356.87,407.04 357.08,411.93 357.29,418.00 357.50,409.96 357.71,418.11 357.92,401.93 358.13,412.32 358.34,412.95 358.54,418.27 358.75,417.47 358.96,411.75 359.17,414.93 359.38,418.64 359.59,414.60 359.80,418.04 360.01,417.70 360.22,411.24 360.42,413.55 360.63,405.95 360.84,410.55 361.05,416.35 361.26,412.41 361.47,407.95 361.68,404.13 361.89,406.95 362.10,404.14 362.30,406.93 362.51,409.57 362.72,399.96 362.93,415.83 363.14,409.81 363.35,412.10 363.56,412.99 363.77,404.12 363.98,402.13 364.18,404.77 364.39,418.88 364.60,402.96 364.81,409.91 365.02,416.31 365.23,412.16 365.44,396.36 365.65,416.52 365.86,409.20 366.06,404.79 366.27,408.37 366.48,412.18 366.69,398.66 366.90,412.82 367.11,412.35 367.32,406.11 367.53,409.67 367.74,405.21 367.95,396.41 368.15,411.90 368.36,409.87 368.57,415.59 368.78,405.19 368.99,409.73 369.20,412.97 369.41,400.34 369.62,408.27 369.83,413.19 370.03,406.09 370.24,408.35 370.45,411.60 370.66,409.05 370.87,416.06 371.08,415.76 371.29,415.31 371.50,409.23 371.71,404.51 371.91,412.35 372.12,409.19 372.33,410.38 372.54,412.48 372.75,417.27 372.96,414.80 373.17,402.18 373.38,416.54 373.59,412.78 373.79,407.10 374.00,413.53 374.21,409.71 374.42,411.00 374.63,411.15 374.84,402.88 375.05,407.73 375.26,408.97 375.47,398.45 375.68,413.32 375.88,406.98 376.09,409.55 376.30,417.35 376.51,415.63 376.72,405.77 376.93,408.19 377.14,410.91 377.35,401.31 377.56,414.33 377.76,406.68 377.97,401.05 378.18,412.89 378.39,409.93 378.60,394.80 378.81,410.63 379.02,413.73 379.23,395.18 379.44,412.04 379.64,404.86 379.85,408.47 380.06,398.51 380.27,410.02 380.48,416.97 380.69,405.93 380.90,397.79 381.11,415.04 381.32,417.17 381.52,409.24 381.73,416.21 381.94,416.21 382.15,413.05 382.36,414.67 382.57,402.00 382.78,414.91 382.99,407.80 383.20,405.23 383.41,410.21 383.61,415.09 383.82,408.02 384.03,398.11 384.24,405.11 384.45,405.04 384.66,412.27 384.87,417.27 385.08,409.88 385.29,404.19 385.49,412.32 385.70,401.02 385.91,396.70 386.12,411.39 386.33,406.69 386.54,408.06 386.75,397.39 386.96,408.52 387.17,410.62 387.37,418.19 387.58,391.91 387.79,409.08 388.00,408.55 388.21,410.85 388.42,414.78 388.63,408.69 388.84,409.93 389.05,408.73 389.25,413.68 389.46,415.87 389.67,405.24 389.88,412.39 390.09,411.20 390.30,406.22 390.51,413.74 390.72,411.84 390.93,408.38 391.14,409.74 391.34,416.90 391.55,410.86 391.76,410.76 391.97,406.20 392.18,413.26 392.39,415.00 392.60,404.62 392.81,404.98 393.02,411.32 393.22,404.08 393.43,396.75 393.64,404.01 393.85,411.68 394.06,408.30 394.27,409.64 394.48,410.42 394.69,408.83 394.90,417.19 395.10,413.65 395.31,417.26 395.52,411.51 395.73,413.45 395.94,412.51 396.15,416.53 396.36,404.93 396.57,404.55 396.78,387.67 396.98,395.28 397.19,417.15 397.40,407.53 397.61,398.25 397.82,397.56 398.03,408.26 398.24,410.62 398.45,413.96 398.66,409.19 398.86,404.54 399.07,411.44 399.28,400.59 399.49,404.46 399.70,397.95 399.91,411.04 400.12,408.52 400.33,406.62 400.54,401.77 400.75,414.07 400.95,405.71 401.16,415.61 401.37,402.82 401.58,410.18 401.79,411.97 402.00,399.65 402.21,400.08 402.42,412.45 402.63,395.93 402.83,407.19 403.04,395.47 403.25,417.09 403.46,413.79 403.67,401.52 403.88,413.95 404.09,412.05 404.30,396.79 404.51,402.41 404.71,410.09 404.92,411.27 405.13,404.24 405.34,397.67 405.55,407.34 405.76,412.30 405.97,407.81 406.18,400.11 406.39,403.22 406.59,412.14 406.80,406.60 407.01,412.28 407.22,399.38 407.43,410.75 407.64,412.93 407.85,414.82 408.06,402.94 408.27,415.43 408.48,408.88 408.68,402.79 408.89,389.87 409.10,410.31 409.31,416.49 409.52,408.63 409.73,402.88 409.94,403.59 410.15,407.00 410.36,417.86 410.56,405.78 410.77,404.84 410.98,407.04 411.19,400.60 411.40,402.53 411.61,413.02 411.82,414.86 412.03,404.40 412.24,406.74 412.44,415.12 412.65,411.10 412.86,406.22 413.07,416.73 413.28,414.65 413.49,406.29 413.70,399.52 413.91,413.52 414.12,414.94 414.32,410.27 414.53,412.86 414.74,387.04 414.95,409.29 415.16,412.88 415.37,402.19 415.58,397.99 415.79,414.73 416.00,412.36 416.21,403.94 416.41,408.43 416.62,400.48 416.83,403.28 417.04,410.47 417.25,411.91 417.46,414.44 417.67,409.93 417.88,412.67 418.09,399.15 418.29,411.07 418.50,417.63 418.71,415.16 418.92,412.34 419.13,414.75 419.34,405.94 419.55,402.85 419.76,409.51 419.97,408.49 420.17,390.23 420.38,401.57 420.59,408.46 420.80,392.66 421.01,392.47 421.22,404.20 421.43,396.19 421.64,405.03 421.85,410.16 422.05,406.23 422.26,386.45 422.47,415.68 422.68,400.97 422.89,382.98 423.10,405.60 423.31,413.71 423.52,415.83 423.73,396.71 423.94,392.90 424.14,413.35 424.35,413.56 424.56,415.29 424.77,412.41 424.98,413.38 425.19,412.98 425.40,390.00 425.61,398.46 425.82,390.45 426.02,382.90 426.23,417.39 426.44,419.09 426.65,407.84 426.86,397.33 427.07,396.81 427.28,415.19 427.49,415.36 427.70,408.40 427.90,411.04 428.11,408.69 428.32,410.86 428.53,417.47 428.74,405.41 428.95,393.48 429.16,393.53 429.37,409.73 429.58,392.01 429.78,395.41 429.99,414.46 430.20,415.96 430.41,395.71 430.62,400.02 430.83,418.18 431.04,415.42 431.25,409.25 431.46,406.24 431.66,412.40 431.87,406.52 432.08,417.35 432.29,411.96 432.50,409.43 432.71,395.68 432.92,411.03 433.13,395.97 433.34,397.33 433.55,413.99 433.75,408.23 433.96,408.03 434.17,410.62 434.38,413.61 434.59,416.26 434.80,392.64 435.01,390.19 435.22,393.65 435.43,417.48 435.63,407.50 435.84,404.21 436.05,408.95 436.26,396.27 436.47,404.53 436.68,402.32 436.89,410.21 437.10,397.89 437.31,417.26 437.51,390.44 437.72,395.37 437.93,398.27 438.14,418.15 438.35,401.35 438.56,410.48 438.77,410.32 438.98,404.38 439.19,402.46 439.60,394.19 439.81,387.60 440.02,405.02 440.23,403.14 440.44,393.44 440.65,394.54 440.86,407.00 441.07,416.60 441.28,410.79 441.48,399.01 441.69,404.03 441.90,410.46 442.11,394.05 442.32,399.65 442.53,393.51 442.74,406.49 442.95,407.94 443.16,414.14 443.36,389.66 443.57,397.49 443.78,402.15 443.99,405.38 444.20,402.88 444.41,418.25 444.62,404.09 444.83,415.26 445.04,377.56 445.24,402.63 445.45,398.32 445.66,413.98 445.87,386.41 446.08,397.11 446.29,399.91 446.50,388.49 446.71,409.78 446.92,387.07 447.12,402.27 447.33,408.36 447.54,410.49 447.75,397.09 447.96,408.06 448.17,411.21 448.38,391.98 448.59,406.63 448.80,404.71 449.01,394.32 449.21,408.90 449.42,394.73 449.63,410.81 449.84,407.48 450.05,414.35 450.26,407.03 450.47,414.11 450.89,407.06 451.09,409.38 451.30,411.01 451.51,403.42 451.72,392.68 451.93,411.18 452.14,412.30 452.35,414.75 452.56,409.56 452.77,413.07 452.97,400.04 453.18,404.44 453.39,405.66 453.60,404.31 453.81,404.13 454.02,410.28 454.23,413.86 454.44,408.20 454.65,411.86 454.85,409.42 455.06,411.45 455.27,409.58 455.48,398.65 455.69,414.46 455.90,399.87 456.11,403.09 456.32,408.48 456.53,411.04 456.74,416.10 456.94,399.17 457.15,393.45 457.36,409.95 457.57,409.27 457.78,412.02 457.99,400.61 458.20,413.02 458.41,394.97 458.62,398.67 458.82,400.55 459.03,396.65 459.24,393.22 459.45,410.68 459.66,417.77 459.87,406.62 460.08,399.77 460.29,404.01 460.50,402.75 460.70,411.93 460.91,410.33 461.12,410.17 461.33,418.15 461.54,403.67 461.75,410.46 461.96,406.34 462.17,412.40 462.38,405.68 462.58,414.09 462.79,403.83 463.00,411.67 463.21,402.11 463.42,412.88 463.63,408.76 463.84,402.94 464.05,412.60 464.26,398.90 464.46,412.11 464.67,413.03 464.88,409.18 465.09,409.13 465.30,412.96 465.51,409.73 465.72,396.89 465.93,396.87 466.14,417.17 466.35,408.55 466.55,411.43 466.76,406.20 466.97,406.08 467.18,411.82 467.39,405.15 467.60,398.71 467.81,405.62 468.02,399.57 468.23,417.92 468.43,414.76 468.64,411.13 468.85,397.29 469.06,407.83 469.27,415.71 469.48,410.86 469.69,407.06 469.90,406.71 470.11,402.02 470.31,388.94 470.52,409.69 470.73,411.78 470.94,403.05 471.15,410.51 471.36,407.53 471.57,400.00 471.78,409.70 471.99,414.57 472.19,410.87 472.40,407.42 472.61,393.26 472.82,404.57 473.03,410.96 473.24,412.27 473.45,406.24 473.66,403.30 473.87,413.65 474.08,399.29 474.28,377.56 474.49,411.26 474.70,409.56 474.91,397.18 475.12,403.68 475.33,402.72 475.54,409.71 475.75,403.71 475.96,413.45 476.16,399.38 476.37,407.84 476.58,415.79 476.79,417.36 477.00,406.34 477.21,403.91 477.42,393.87 477.63,412.78 477.84,398.97 478.04,419.27 478.25,406.26 478.46,417.74 478.67,413.23 478.88,408.42 479.09,406.80 479.30,412.48 479.51,416.93 479.72,405.76 479.92,412.14 480.13,408.92 480.34,396.89 480.55,398.04 480.76,397.62 480.97,397.73 481.18,406.78 481.39,414.55 481.60,417.32 481.81,408.73 482.01,414.24 482.22,416.14 482.43,405.90 482.64,412.10 482.85,417.62 483.06,411.39 483.27,413.54 483.48,382.07 483.69,408.87 483.89,408.05 484.10,414.46 484.31,403.00 484.52,414.27 484.73,411.15 484.94,412.48 485.15,417.17 485.36,414.33 485.57,411.05 485.77,406.71 485.98,408.86 486.19,405.89 486.40,406.51 486.61,412.73 486.82,408.79 487.03,418.26 487.24,405.88 487.45,413.63 487.65,406.91 487.86,416.22 488.07,410.94 488.28,416.43 488.49,416.45 488.70,419.22 488.91,414.52 489.12,412.65 489.33,410.66 489.54,416.27 489.74,410.76 489.95,417.64 490.16,414.37 490.37,411.87 490.58,407.21 490.79,408.41 491.00,404.67 491.21,414.72 491.42,413.36 491.62,414.40 491.83,410.68 492.04,417.98 492.25,405.02 492.46,408.40 492.67,410.59 492.88,399.86 493.09,414.19 493.30,407.89 493.50,406.92 493.71,412.95 493.92,416.13 494.13,399.09 494.34,411.69 494.55,410.61 494.76,418.87 494.97,409.41 495.18,403.53 495.38,418.57 495.59,410.97 495.80,411.30 496.01,411.90 496.22,407.74 496.43,413.50 496.64,414.41 496.85,413.00 497.06,412.78 497.26,410.59 497.47,413.62 497.68,402.69 497.89,409.84 498.10,398.77 498.31,412.71 498.52,417.88 498.73,417.67 498.94,414.50 499.15,412.24 499.35,415.37 499.56,407.79 499.77,408.85 499.98,409.72 500.19,411.27 500.40,416.89 500.61,415.68 500.82,412.19 501.03,412.26 501.23,406.81 501.44,410.30 501.65,414.34 501.86,416.94 502.07,413.43 502.28,414.70 502.49,415.71 502.70,414.18 502.91,416.28 503.11,414.40 503.32,416.82 503.53,416.91 503.74,417.60 503.95,415.28 504.16,398.22 504.37,412.97 504.58,404.92 504.79,416.74 504.99,411.97 505.20,399.09 505.41,410.51 505.62,416.14 505.83,416.08 506.04,417.80 506.25,413.96 506.46,415.04 506.67,405.41 506.88,409.94 507.08,389.59 507.29,413.72 507.50,412.02 507.71,408.08 507.92,414.95 508.13,416.51 508.34,407.57 508.55,416.92 508.76,409.99 508.96,416.38 509.17,414.16 509.38,412.95 509.59,412.06 509.80,417.11 510.01,413.84 510.22,416.15 510.43,418.68 510.64,408.06 510.84,409.56 511.05,414.43 511.26,408.28 511.47,407.56 511.68,418.34 511.89,417.46 512.10,417.34 512.31,409.76 512.52,413.30 512.72,412.90 512.93,403.35 513.14,403.21 513.35,408.01 513.56,411.93 513.77,408.38 513.98,404.11 514.19,412.26 514.40,416.08 514.61,403.31 514.81,414.39 515.02,411.37 515.23,418.99 515.44,415.80 515.65,417.55 515.86,416.26 516.07,414.79 516.28,405.51 516.49,412.49 516.69,405.38 516.90,418.45 517.11,414.52 517.32,409.02 517.53,410.39 517.74,411.59 517.95,414.94 518.16,410.83 518.37,418.50 518.57,410.79 518.78,417.36 518.99,414.01 519.20,407.78 519.41,411.83 519.62,411.28 519.83,419.64 520.04,412.71 520.25,414.95 520.45,411.91 520.66,417.18 520.87,413.54 521.08,413.87 521.29,417.52 521.50,410.10 521.71,412.84 521.92,415.55 522.13,414.93 522.34,415.50 522.54,418.96 522.75,410.93 522.96,411.32 523.17,417.30 523.38,413.53 523.59,401.69 523.80,417.94 524.01,417.85 524.22,412.64 524.42,412.70 524.63,419.04 524.84,412.12 525.05,408.64 525.26,415.64 525.47,411.20 525.68,409.73 525.89,415.71 526.10,407.33 526.30,419.74 526.51,410.88 526.72,412.61 526.93,418.57 527.14,415.23 527.35,402.61 527.56,418.42 527.77,412.27 527.98,409.34 528.18,411.35 528.39,414.72 528.60,416.63 528.81,414.58 529.02,414.03 529.23,416.60 529.44,418.56 529.65,414.12 529.86,408.44 530.06,409.53 530.27,418.61 530.48,418.68 530.69,416.42 530.90,415.30 531.11,417.90 531.32,416.97 531.53,416.39 531.74,414.80 531.95,416.40 532.15,412.91 532.36,417.72 532.57,417.18 532.78,414.84 532.99,407.60 533.20,413.49 533.41,414.15 533.62,410.56 533.83,415.33 534.03,406.30 534.24,412.24 534.45,410.15 534.66,414.97 534.87,409.90 535.08,410.80 535.29,419.04 535.50,411.98 535.71,414.76 535.91,411.65 536.12,405.82 536.33,416.50 536.54,413.29 536.75,414.35 536.96,404.85 537.17,411.02 537.38,415.14 537.59,416.20 537.79,415.93 538.00,418.97 538.21,413.35 538.42,417.94 538.63,416.88 538.84,416.43 539.05,417.77 539.26,418.27 539.47,416.44 539.68,408.31 539.88,411.29 540.09,415.32 540.30,415.26 540.51,419.37 540.72,415.37 540.93,417.49 541.14,415.94 541.35,409.38 541.56,413.51 541.76,414.62 541.97,410.71 542.18,414.56 542.39,415.62 542.60,417.42" fill="none" stroke="#0072BD" stroke-width="0.5" stroke-linejoin="round"/>
<g fill="none" stroke="#0072BD" stroke-linejoin="round"><path d="M427.58 408.40L427.80 266.94L428.02 411.04" stroke-width="0.32"/><path d="M439.18 402.46L439.40 266.94L439.62 394.19" stroke-width="0.32"/><path d="M450.43 414.11L450.65 270.25L450.87 407.06" stroke-width="0.32"/></g>
<rect x="313.00" y="240.60" width="229.60" height="180.60" fill="none" stroke="#666" stroke-width="0.85"/>
<path d="M313.00 421.20v-2.3M313.00 240.60v2.3M335.96 421.20v-2.3M335.96 240.60v2.3M358.92 421.20v-2.3M358.92 240.60v2.3M381.88 421.20v-2.3M381.88 240.60v2.3M404.84 421.20v-2.3M404.84 240.60v2.3M427.80 421.20v-2.3M427.80 240.60v2.3M450.76 421.20v-2.3M450.76 240.60v2.3M473.72 421.20v-2.3M473.72 240.60v2.3M496.68 421.20v-2.3M496.68 240.60v2.3M519.64 421.20v-2.3M519.64 240.60v2.3M542.60 421.20v-2.3M542.60 240.60v2.3M313.00 421.20h2.3M542.60 421.20h-2.3M313.00 391.10h2.3M542.60 391.10h-2.3M313.00 361.00h2.3M542.60 361.00h-2.3M313.00 330.90h2.3M542.60 330.90h-2.3M313.00 300.80h2.3M542.60 300.80h-2.3M313.00 270.70h2.3M542.60 270.70h-2.3M313.00 240.60h2.3M542.60 240.60h-2.3" stroke="#262626" stroke-width="0.5" fill="none"/>
<g font-family="Liberation Sans, Arial, sans-serif" font-size="7.0" fill="#262626" stroke="#262626" stroke-width="0.26">
<text x="313.00" y="431.80" text-anchor="middle">4.9</text>
<text x="335.96" y="431.80" text-anchor="middle">4.92</text>
<text x="358.92" y="431.80" text-anchor="middle">4.94</text>
<text x="381.88" y="431.80" text-anchor="middle">4.96</text>
<text x="404.84" y="431.80" text-anchor="middle">4.98</text>
<text x="427.80" y="431.80" text-anchor="middle">5</text>
<text x="450.76" y="431.80" text-anchor="middle">5.02</text>
<text x="473.72" y="431.80" text-anchor="middle">5.04</text>
<text x="496.68" y="431.80" text-anchor="middle">5.06</text>
<text x="519.64" y="431.80" text-anchor="middle">5.08</text>
<text x="542.60" y="431.80" text-anchor="middle">5.1</text>
<text x="310.40" y="423.65" text-anchor="end">0</text>
<text x="310.40" y="393.55" text-anchor="end">0.2</text>
<text x="310.40" y="363.45" text-anchor="end">0.4</text>
<text x="310.40" y="333.35" text-anchor="end">0.6</text>
<text x="310.40" y="303.25" text-anchor="end">0.8</text>
<text x="310.40" y="273.15" text-anchor="end">1</text>
<text x="310.40" y="243.05" text-anchor="end">1.2</text>
<text x="542.30" y="442.50" text-anchor="end"><tspan font-size="8.05">×</tspan><tspan dx="0.6">10</tspan><tspan dy="-2.9" font-size="5.60">6</tspan></text>
<text x="428.20" y="441.60" text-anchor="middle" font-size="7.77">Cyclic Frequency-α(Hz)</text>
<text transform="translate(293.50 330.90) rotate(-90)" text-anchor="middle" letter-spacing="0.08" font-size="7.77">amplitude -|C<tspan dy="2.5" font-size="6.68">40</tspan><tspan dy="-2.5">|</tspan></text>
</g>
<g font-family="Liberation Sans, Arial, sans-serif" font-size="7.2" fill="#000" stroke="#000" stroke-width="0.32">
<rect x="384.90" y="297.50" width="26.10" height="13.60" fill="#fff" stroke="#555" stroke-width="0.55"/>
<text x="398.45" y="306.90" text-anchor="middle">QPSK</text>
<path d="M411.00 304.30L422.35 301.63" stroke="#000" stroke-width="0.62" fill="none"/>
<path d="M428.00 300.30L421.80 304.53L423.23 301.42L420.57 299.28Z" fill="#000"/>
<rect x="464.20" y="319.40" width="26.60" height="13.50" fill="#fff" stroke="#555" stroke-width="0.55"/>
<text x="478.00" y="328.75" text-anchor="middle">QPSK</text>
<path d="M464.20 326.15L457.80 324.03" stroke="#000" stroke-width="0.62" fill="none"/>
<path d="M452.30 322.20L459.79 321.84L456.95 323.74L458.09 326.97Z" fill="#000"/>
<rect x="392.70" y="342.90" width="26.50" height="13.30" fill="#fff" stroke="#555" stroke-width="0.55"/>
<text x="406.45" y="352.15" text-anchor="middle">QPSK</text>
<path d="M419.20 349.55L432.62 344.90" stroke="#000" stroke-width="0.62" fill="none"/>
<path d="M438.10 343.00L432.37 347.84L433.47 344.60L430.60 342.74Z" fill="#000"/>
</g>
<text x="416.80" y="461.50" text-anchor="middle" font-family="Liberation Serif, Times New Roman, serif" font-size="14" fill="#111" letter-spacing="0.7">(<tspan font-weight="bold">d</tspan>)</text>
</svg>
</body></html>
